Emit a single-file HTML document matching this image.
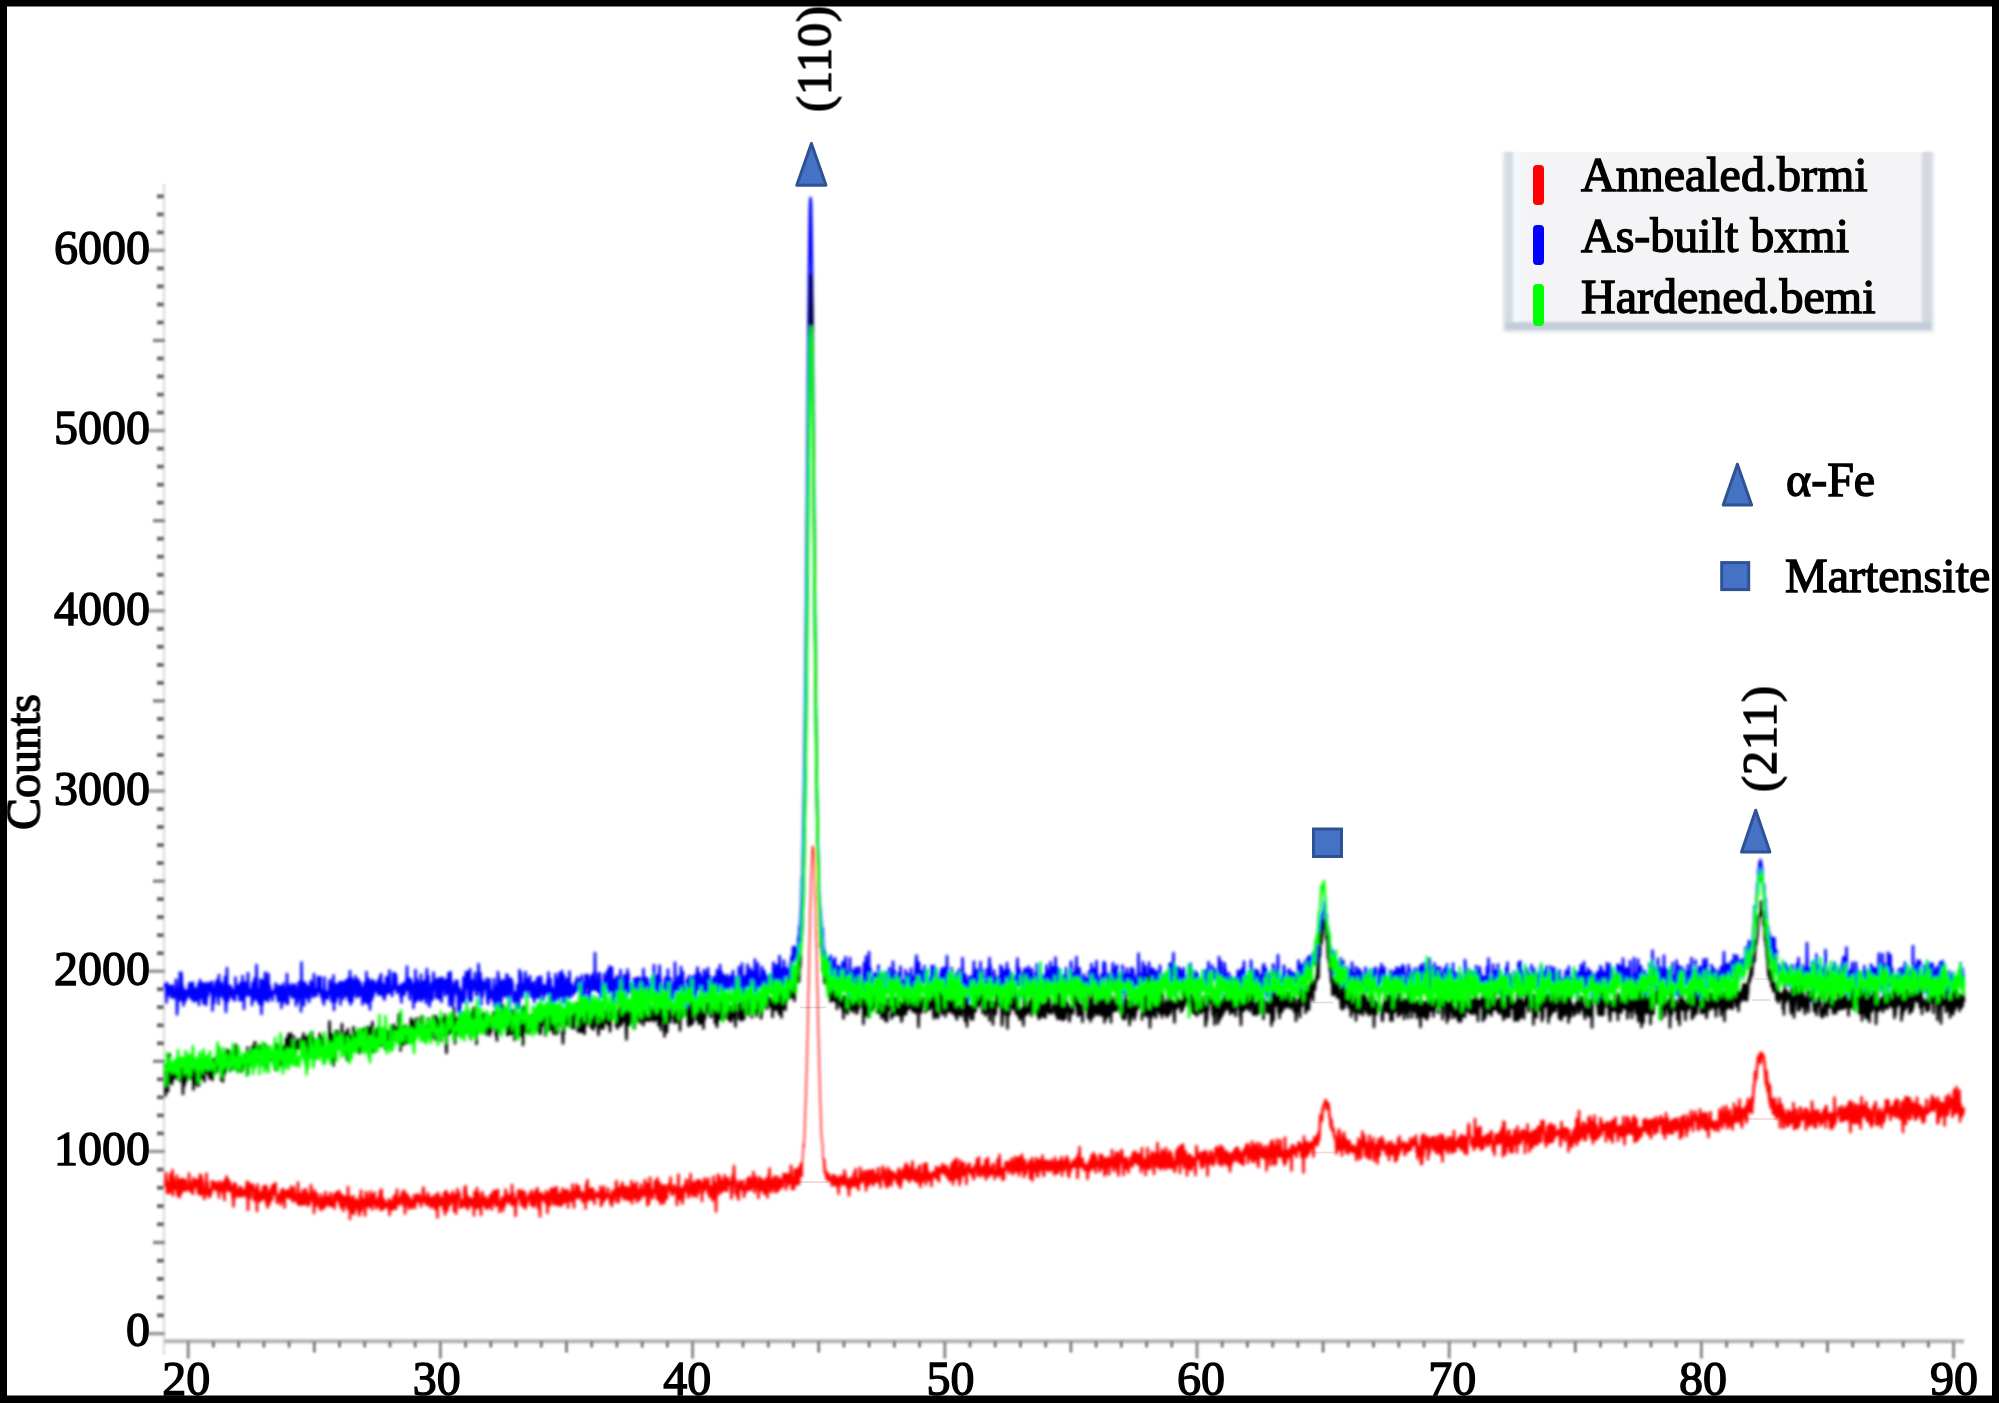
<!DOCTYPE html>
<html><head><meta charset="utf-8"><style>html,body{margin:0;padding:0;width:1999px;height:1403px;overflow:hidden;background:#fff}</style></head><body>
<svg width="1999" height="1403" viewBox="0 0 1999 1403" style="position:absolute;left:0;top:0">
<rect x="0" y="0" width="1999" height="1403" fill="#fff"/>
<defs><filter id="bl2" x="-2%" y="-2%" width="104%" height="104%"><feGaussianBlur stdDeviation="0.9"/></filter><filter id="bl4" x="-5%" y="-5%" width="110%" height="110%"><feGaussianBlur stdDeviation="0.6"/></filter><filter id="bl5" x="-10%" y="-10%" width="120%" height="120%"><feGaussianBlur stdDeviation="0.5"/></filter><filter id="bl3" x="-5%" y="-5%" width="110%" height="110%"><feGaussianBlur stdDeviation="1.6"/></filter></defs>
<g filter="url(#bl2)">
<line x1="164" y1="184" x2="164" y2="1355" stroke="#e0e0e0" stroke-width="2.6"/>
<line x1="164" y1="1341.3" x2="1964" y2="1341.3" stroke="#b4b4b4" stroke-width="4"/>
<line x1="148" y1="1333.6" x2="165" y2="1333.6" stroke="#999" stroke-width="3.5"/>
<line x1="157" y1="1315.4" x2="164" y2="1315.4" stroke="#6a6a6a" stroke-width="4"/>
<line x1="157" y1="1297.2" x2="164" y2="1297.2" stroke="#6a6a6a" stroke-width="4"/>
<line x1="157" y1="1278.9" x2="164" y2="1278.9" stroke="#6a6a6a" stroke-width="4"/>
<line x1="157" y1="1260.7" x2="164" y2="1260.7" stroke="#6a6a6a" stroke-width="4"/>
<line x1="153" y1="1242.5" x2="165" y2="1242.5" stroke="#888" stroke-width="3.5"/>
<line x1="157" y1="1224.3" x2="164" y2="1224.3" stroke="#6a6a6a" stroke-width="4"/>
<line x1="157" y1="1206.1" x2="164" y2="1206.1" stroke="#6a6a6a" stroke-width="4"/>
<line x1="157" y1="1187.8" x2="164" y2="1187.8" stroke="#6a6a6a" stroke-width="4"/>
<line x1="157" y1="1169.6" x2="164" y2="1169.6" stroke="#6a6a6a" stroke-width="4"/>
<line x1="148" y1="1151.4" x2="165" y2="1151.4" stroke="#999" stroke-width="3.5"/>
<line x1="157" y1="1133.4" x2="164" y2="1133.4" stroke="#6a6a6a" stroke-width="4"/>
<line x1="157" y1="1115.4" x2="164" y2="1115.4" stroke="#6a6a6a" stroke-width="4"/>
<line x1="157" y1="1097.3" x2="164" y2="1097.3" stroke="#6a6a6a" stroke-width="4"/>
<line x1="157" y1="1079.3" x2="164" y2="1079.3" stroke="#6a6a6a" stroke-width="4"/>
<line x1="153" y1="1061.3" x2="165" y2="1061.3" stroke="#888" stroke-width="3.5"/>
<line x1="157" y1="1043.3" x2="164" y2="1043.3" stroke="#6a6a6a" stroke-width="4"/>
<line x1="157" y1="1025.3" x2="164" y2="1025.3" stroke="#6a6a6a" stroke-width="4"/>
<line x1="157" y1="1007.2" x2="164" y2="1007.2" stroke="#6a6a6a" stroke-width="4"/>
<line x1="157" y1="989.2" x2="164" y2="989.2" stroke="#6a6a6a" stroke-width="4"/>
<line x1="148" y1="971.2" x2="165" y2="971.2" stroke="#999" stroke-width="3.5"/>
<line x1="157" y1="953.2" x2="164" y2="953.2" stroke="#6a6a6a" stroke-width="4"/>
<line x1="157" y1="935.2" x2="164" y2="935.2" stroke="#6a6a6a" stroke-width="4"/>
<line x1="157" y1="917.1" x2="164" y2="917.1" stroke="#6a6a6a" stroke-width="4"/>
<line x1="157" y1="899.1" x2="164" y2="899.1" stroke="#6a6a6a" stroke-width="4"/>
<line x1="153" y1="881.1" x2="165" y2="881.1" stroke="#888" stroke-width="3.5"/>
<line x1="157" y1="863.1" x2="164" y2="863.1" stroke="#6a6a6a" stroke-width="4"/>
<line x1="157" y1="845.1" x2="164" y2="845.1" stroke="#6a6a6a" stroke-width="4"/>
<line x1="157" y1="827.0" x2="164" y2="827.0" stroke="#6a6a6a" stroke-width="4"/>
<line x1="157" y1="809.0" x2="164" y2="809.0" stroke="#6a6a6a" stroke-width="4"/>
<line x1="148" y1="791.0" x2="165" y2="791.0" stroke="#999" stroke-width="3.5"/>
<line x1="157" y1="773.0" x2="164" y2="773.0" stroke="#6a6a6a" stroke-width="4"/>
<line x1="157" y1="755.0" x2="164" y2="755.0" stroke="#6a6a6a" stroke-width="4"/>
<line x1="157" y1="736.9" x2="164" y2="736.9" stroke="#6a6a6a" stroke-width="4"/>
<line x1="157" y1="718.9" x2="164" y2="718.9" stroke="#6a6a6a" stroke-width="4"/>
<line x1="153" y1="700.9" x2="165" y2="700.9" stroke="#888" stroke-width="3.5"/>
<line x1="157" y1="682.9" x2="164" y2="682.9" stroke="#6a6a6a" stroke-width="4"/>
<line x1="157" y1="664.9" x2="164" y2="664.9" stroke="#6a6a6a" stroke-width="4"/>
<line x1="157" y1="646.8" x2="164" y2="646.8" stroke="#6a6a6a" stroke-width="4"/>
<line x1="157" y1="628.8" x2="164" y2="628.8" stroke="#6a6a6a" stroke-width="4"/>
<line x1="148" y1="610.8" x2="165" y2="610.8" stroke="#999" stroke-width="3.5"/>
<line x1="157" y1="592.8" x2="164" y2="592.8" stroke="#6a6a6a" stroke-width="4"/>
<line x1="157" y1="574.8" x2="164" y2="574.8" stroke="#6a6a6a" stroke-width="4"/>
<line x1="157" y1="556.7" x2="164" y2="556.7" stroke="#6a6a6a" stroke-width="4"/>
<line x1="157" y1="538.7" x2="164" y2="538.7" stroke="#6a6a6a" stroke-width="4"/>
<line x1="153" y1="520.7" x2="165" y2="520.7" stroke="#888" stroke-width="3.5"/>
<line x1="157" y1="502.7" x2="164" y2="502.7" stroke="#6a6a6a" stroke-width="4"/>
<line x1="157" y1="484.7" x2="164" y2="484.7" stroke="#6a6a6a" stroke-width="4"/>
<line x1="157" y1="466.6" x2="164" y2="466.6" stroke="#6a6a6a" stroke-width="4"/>
<line x1="157" y1="448.6" x2="164" y2="448.6" stroke="#6a6a6a" stroke-width="4"/>
<line x1="148" y1="430.6" x2="165" y2="430.6" stroke="#999" stroke-width="3.5"/>
<line x1="157" y1="412.6" x2="164" y2="412.6" stroke="#6a6a6a" stroke-width="4"/>
<line x1="157" y1="394.6" x2="164" y2="394.6" stroke="#6a6a6a" stroke-width="4"/>
<line x1="157" y1="376.5" x2="164" y2="376.5" stroke="#6a6a6a" stroke-width="4"/>
<line x1="157" y1="358.5" x2="164" y2="358.5" stroke="#6a6a6a" stroke-width="4"/>
<line x1="153" y1="340.5" x2="165" y2="340.5" stroke="#888" stroke-width="3.5"/>
<line x1="157" y1="322.5" x2="164" y2="322.5" stroke="#6a6a6a" stroke-width="4"/>
<line x1="157" y1="304.5" x2="164" y2="304.5" stroke="#6a6a6a" stroke-width="4"/>
<line x1="157" y1="286.4" x2="164" y2="286.4" stroke="#6a6a6a" stroke-width="4"/>
<line x1="157" y1="268.4" x2="164" y2="268.4" stroke="#6a6a6a" stroke-width="4"/>
<line x1="148" y1="250.4" x2="165" y2="250.4" stroke="#999" stroke-width="3.5"/>
<line x1="157" y1="232.4" x2="164" y2="232.4" stroke="#6a6a6a" stroke-width="4"/>
<line x1="157" y1="214.4" x2="164" y2="214.4" stroke="#6a6a6a" stroke-width="4"/>
<line x1="157" y1="196.3" x2="164" y2="196.3" stroke="#6a6a6a" stroke-width="4"/>
<line x1="188.2" y1="1341" x2="188.2" y2="1358.5" stroke="#8a8a8a" stroke-width="3"/>
<line x1="213.4" y1="1341" x2="213.4" y2="1347.5" stroke="#7a7a7a" stroke-width="3"/>
<line x1="238.6" y1="1341" x2="238.6" y2="1347.5" stroke="#7a7a7a" stroke-width="3"/>
<line x1="263.9" y1="1341" x2="263.9" y2="1347.5" stroke="#7a7a7a" stroke-width="3"/>
<line x1="289.1" y1="1341" x2="289.1" y2="1347.5" stroke="#7a7a7a" stroke-width="3"/>
<line x1="314.3" y1="1341" x2="314.3" y2="1352.5" stroke="#808080" stroke-width="3"/>
<line x1="339.5" y1="1341" x2="339.5" y2="1347.5" stroke="#7a7a7a" stroke-width="3"/>
<line x1="364.7" y1="1341" x2="364.7" y2="1347.5" stroke="#7a7a7a" stroke-width="3"/>
<line x1="390.0" y1="1341" x2="390.0" y2="1347.5" stroke="#7a7a7a" stroke-width="3"/>
<line x1="415.2" y1="1341" x2="415.2" y2="1347.5" stroke="#7a7a7a" stroke-width="3"/>
<line x1="440.4" y1="1341" x2="440.4" y2="1358.5" stroke="#8a8a8a" stroke-width="3"/>
<line x1="465.6" y1="1341" x2="465.6" y2="1347.5" stroke="#7a7a7a" stroke-width="3"/>
<line x1="490.8" y1="1341" x2="490.8" y2="1347.5" stroke="#7a7a7a" stroke-width="3"/>
<line x1="516.1" y1="1341" x2="516.1" y2="1347.5" stroke="#7a7a7a" stroke-width="3"/>
<line x1="541.3" y1="1341" x2="541.3" y2="1347.5" stroke="#7a7a7a" stroke-width="3"/>
<line x1="566.5" y1="1341" x2="566.5" y2="1352.5" stroke="#808080" stroke-width="3"/>
<line x1="591.7" y1="1341" x2="591.7" y2="1347.5" stroke="#7a7a7a" stroke-width="3"/>
<line x1="616.9" y1="1341" x2="616.9" y2="1347.5" stroke="#7a7a7a" stroke-width="3"/>
<line x1="642.2" y1="1341" x2="642.2" y2="1347.5" stroke="#7a7a7a" stroke-width="3"/>
<line x1="667.4" y1="1341" x2="667.4" y2="1347.5" stroke="#7a7a7a" stroke-width="3"/>
<line x1="692.6" y1="1341" x2="692.6" y2="1358.5" stroke="#8a8a8a" stroke-width="3"/>
<line x1="717.8" y1="1341" x2="717.8" y2="1347.5" stroke="#7a7a7a" stroke-width="3"/>
<line x1="743.0" y1="1341" x2="743.0" y2="1347.5" stroke="#7a7a7a" stroke-width="3"/>
<line x1="768.3" y1="1341" x2="768.3" y2="1347.5" stroke="#7a7a7a" stroke-width="3"/>
<line x1="793.5" y1="1341" x2="793.5" y2="1347.5" stroke="#7a7a7a" stroke-width="3"/>
<line x1="818.7" y1="1341" x2="818.7" y2="1352.5" stroke="#808080" stroke-width="3"/>
<line x1="843.9" y1="1341" x2="843.9" y2="1347.5" stroke="#7a7a7a" stroke-width="3"/>
<line x1="869.1" y1="1341" x2="869.1" y2="1347.5" stroke="#7a7a7a" stroke-width="3"/>
<line x1="894.4" y1="1341" x2="894.4" y2="1347.5" stroke="#7a7a7a" stroke-width="3"/>
<line x1="919.6" y1="1341" x2="919.6" y2="1347.5" stroke="#7a7a7a" stroke-width="3"/>
<line x1="944.8" y1="1341" x2="944.8" y2="1358.5" stroke="#8a8a8a" stroke-width="3"/>
<line x1="970.0" y1="1341" x2="970.0" y2="1347.5" stroke="#7a7a7a" stroke-width="3"/>
<line x1="995.2" y1="1341" x2="995.2" y2="1347.5" stroke="#7a7a7a" stroke-width="3"/>
<line x1="1020.5" y1="1341" x2="1020.5" y2="1347.5" stroke="#7a7a7a" stroke-width="3"/>
<line x1="1045.7" y1="1341" x2="1045.7" y2="1347.5" stroke="#7a7a7a" stroke-width="3"/>
<line x1="1070.9" y1="1341" x2="1070.9" y2="1352.5" stroke="#808080" stroke-width="3"/>
<line x1="1096.1" y1="1341" x2="1096.1" y2="1347.5" stroke="#7a7a7a" stroke-width="3"/>
<line x1="1121.3" y1="1341" x2="1121.3" y2="1347.5" stroke="#7a7a7a" stroke-width="3"/>
<line x1="1146.6" y1="1341" x2="1146.6" y2="1347.5" stroke="#7a7a7a" stroke-width="3"/>
<line x1="1171.8" y1="1341" x2="1171.8" y2="1347.5" stroke="#7a7a7a" stroke-width="3"/>
<line x1="1197.0" y1="1341" x2="1197.0" y2="1358.5" stroke="#8a8a8a" stroke-width="3"/>
<line x1="1222.2" y1="1341" x2="1222.2" y2="1347.5" stroke="#7a7a7a" stroke-width="3"/>
<line x1="1247.4" y1="1341" x2="1247.4" y2="1347.5" stroke="#7a7a7a" stroke-width="3"/>
<line x1="1272.7" y1="1341" x2="1272.7" y2="1347.5" stroke="#7a7a7a" stroke-width="3"/>
<line x1="1297.9" y1="1341" x2="1297.9" y2="1347.5" stroke="#7a7a7a" stroke-width="3"/>
<line x1="1323.1" y1="1341" x2="1323.1" y2="1352.5" stroke="#808080" stroke-width="3"/>
<line x1="1348.3" y1="1341" x2="1348.3" y2="1347.5" stroke="#7a7a7a" stroke-width="3"/>
<line x1="1373.5" y1="1341" x2="1373.5" y2="1347.5" stroke="#7a7a7a" stroke-width="3"/>
<line x1="1398.8" y1="1341" x2="1398.8" y2="1347.5" stroke="#7a7a7a" stroke-width="3"/>
<line x1="1424.0" y1="1341" x2="1424.0" y2="1347.5" stroke="#7a7a7a" stroke-width="3"/>
<line x1="1449.2" y1="1341" x2="1449.2" y2="1358.5" stroke="#8a8a8a" stroke-width="3"/>
<line x1="1474.4" y1="1341" x2="1474.4" y2="1347.5" stroke="#7a7a7a" stroke-width="3"/>
<line x1="1499.6" y1="1341" x2="1499.6" y2="1347.5" stroke="#7a7a7a" stroke-width="3"/>
<line x1="1524.9" y1="1341" x2="1524.9" y2="1347.5" stroke="#7a7a7a" stroke-width="3"/>
<line x1="1550.1" y1="1341" x2="1550.1" y2="1347.5" stroke="#7a7a7a" stroke-width="3"/>
<line x1="1575.3" y1="1341" x2="1575.3" y2="1352.5" stroke="#808080" stroke-width="3"/>
<line x1="1600.5" y1="1341" x2="1600.5" y2="1347.5" stroke="#7a7a7a" stroke-width="3"/>
<line x1="1625.7" y1="1341" x2="1625.7" y2="1347.5" stroke="#7a7a7a" stroke-width="3"/>
<line x1="1651.0" y1="1341" x2="1651.0" y2="1347.5" stroke="#7a7a7a" stroke-width="3"/>
<line x1="1676.2" y1="1341" x2="1676.2" y2="1347.5" stroke="#7a7a7a" stroke-width="3"/>
<line x1="1701.4" y1="1341" x2="1701.4" y2="1358.5" stroke="#8a8a8a" stroke-width="3"/>
<line x1="1726.6" y1="1341" x2="1726.6" y2="1347.5" stroke="#7a7a7a" stroke-width="3"/>
<line x1="1751.8" y1="1341" x2="1751.8" y2="1347.5" stroke="#7a7a7a" stroke-width="3"/>
<line x1="1777.1" y1="1341" x2="1777.1" y2="1347.5" stroke="#7a7a7a" stroke-width="3"/>
<line x1="1802.3" y1="1341" x2="1802.3" y2="1347.5" stroke="#7a7a7a" stroke-width="3"/>
<line x1="1827.5" y1="1341" x2="1827.5" y2="1352.5" stroke="#808080" stroke-width="3"/>
<line x1="1852.7" y1="1341" x2="1852.7" y2="1347.5" stroke="#7a7a7a" stroke-width="3"/>
<line x1="1877.9" y1="1341" x2="1877.9" y2="1347.5" stroke="#7a7a7a" stroke-width="3"/>
<line x1="1903.2" y1="1341" x2="1903.2" y2="1347.5" stroke="#7a7a7a" stroke-width="3"/>
<line x1="1928.4" y1="1341" x2="1928.4" y2="1347.5" stroke="#7a7a7a" stroke-width="3"/>
<line x1="1953.6" y1="1341" x2="1953.6" y2="1358.5" stroke="#8a8a8a" stroke-width="3"/>
</g>
<line x1="800" y1="1007.5" x2="826" y2="1007.5" stroke="#dcdcdc" stroke-width="1.6"/>
<line x1="800" y1="1182" x2="828" y2="1182" stroke="#f4d0d0" stroke-width="1.6"/>
<line x1="1313" y1="1002.5" x2="1333" y2="1002.5" stroke="#dddddd" stroke-width="1.6"/>
<line x1="1310" y1="1152.5" x2="1334" y2="1152.5" stroke="#eed8d8" stroke-width="1.6"/>
<line x1="1752" y1="1000" x2="1771" y2="1000" stroke="#dcdcdc" stroke-width="1.6"/>
<line x1="1754" y1="979" x2="1770" y2="979" stroke="#e4e4e4" stroke-width="1.6"/>
<line x1="1745" y1="1119" x2="1776" y2="1119" stroke="#f4d4d4" stroke-width="1.6"/>
<defs><filter id="bl" x="-5%" y="-5%" width="110%" height="110%"><feGaussianBlur stdDeviation="1.5"/></filter></defs>
<g filter="url(#bl)"><g transform="scale(0.5)">
<path d="M330 1976l1-8 1 8 1 29 1-39 1 8 1 17 1-19 1 4 1 1 1 4 1-9 1 23 1-10 1 5 1-19 1 10 1 6 1 9 1-10 1-4 1 5 1-28 1 5 1 65 1-14 1-30 1 4 1-11 1 0 1-33 1 56 1-13 1-42 1 24 1 0 1 21 1 20 1-32 1 1 1 23 1-9 1-11 1 15 1-15 1-3 1 1 1 10 1-20 1-5 1 10 1 20 1-27 1 21 1-24 1 34 1-35 1 17 1 21 1-16 1-6 1-4 1 22 1 2 1-23 1 12 1-13 1-9 1 42 1-33 1-17 1 27 1 9 1-28 1 9 1-11 1 21 1 20 1-24 1 6 1-21 1 10 1 32 1-8 1-36 1 3 1 24 1-12 1-8 1 0 1-7 1 11 1 6 1 3 1-23 1 58 1-37 1-3 1 25 1-31 1 18 1-27 1 17 1-14 1-9 1 14 1 23 1 11 1-58 1 33 1 10 1-14 1 6 1-19 1 15 1 0 1 13 1-21 1 26 1-30 1-15 1 54 1 16 1-54 1-34 1 63 1 4 1-32 1 25 1-6 1-3 1-15 1 16 1-12 1 8 1 12 1-9 1 11 1-17 1 20 1-1 1-45 1 27 1 0 1-10 1 16 1-3 1-12 1 3 1 25 1-35 1 25 1 8 1-2 1-9 1-36 1 49 1-23 1 40 1-37 1-16 1 20 1 7 1-15 1-9 1 1 1-23 1 31 1 14 1-8 1-1 1-3 1 2 1-3 1 32 1-44 1 25 1 10 1-32 1-12 1 15 1 6 1 19 1-67 1 35 1 36 1-7 1-15 1 29 1-30 1 11 1-30 1 5 1 64 1-48 1 29 1-48 1 17 1-7 1 28 1-51 1-3 1 54 1-25 1 18 1-11 1 22 1-55 1 49 1-11 1-14 1 20 1-7 1 5 1-7 1 18 1-13 1-4 1 2 1-7 1 7 1-19 1 19 1-3 1 9 1-2 1 13 1-32 1 29 1-7 1-19 1-1 1 14 1 29 1-43 1 3 1 29 1-38 1 26 1 7 1-21 1 4 1-6 1 31 1-60 1 43 1 16 1-38 1 17 1-12 1 12 1-5 1-5 1 17 1-25 1 20 1 7 1-16 1-7 1 12 1 11 1-26 1 42 1-13 1-19 1 25 1-24 1 1 1-17 1 32 1-5 1-17 1 49 1-98 1 67 1 1 1-28 1 16 1 30 1-42 1-4 1 23 1-3 1-14 1 25 1-24 1 4 1 16 1 12 1-20 1 11 1-33 1 15 1-11 1 11 1-2 1 19 1-26 1-20 1 37 1 5 1-7 1 5 1 4 1-15 1 8 1-31 1 26 1-6 1-11 1 22 1-31 1 37 1 3 1-8 1-4 1 22 1-24 1 29 1-54 1 26 1 10 1 5 1-10 1-2 1 14 1-2 1-13 1 6 1-26 1-3 1 19 1-8 1 32 1-35 1 12 1-9 1-20 1 69 1-45 1 24 1-30 1 34 1-15 1-12 1-7 1 9 1 15 1-4 1-25 1 15 1 30 1-44 1 7 1-8 1 21 1-20 1 33 1-29 1 19 1-21 1-5 1 30 1-12 1-1 1-21 1 9 1 34 1-30 1-5 1-24 1 67 1-20 1-33 1 47 1-3 1-30 1-9 1 30 1-21 1 7 1-25 1 27 1-17 1 33 1-13 1-1 1-22 1 10 1 23 1-25 1-1 1 15 1 3 1-2 1 27 1-33 1-1 1 19 1-28 1 37 1-14 1-2 1-43 1 63 1-38 1-7 1 10 1-14 1 39 1 22 1-54 1 35 1-15 1 15 1-40 1 4 1 28 1-29 1 14 1 4 1-3 1 4 1-14 1 5 1 12 1-24 1 29 1-16 1-3 1-18 1 35 1-40 1 28 1 6 1 9 1-23 1 10 1 20 1 1 1-11 1 3 1-31 1-6 1 9 1 9 1 14 1-8 1-15 1-22 1 22 1 21 1-6 1 9 1 5 1-10 1-7 1-29 1 32 1-23 1-8 1 30 1-27 1 16 1 20 1-12 1 4 1 5 1-1 1-6 1-5 1 23 1-15 1 26 1-31 1-7 1 9 1-3 1-5 1 22 1-7 1-14 1-8 1 10 1-38 1 47 1-19 1-5 1 25 1 12 1 6 1-24 1-16 1 15 1 1 1 10 1-17 1 48 1-42 1 4 1 24 1-62 1 63 1-6 1 2 1-40 1 35 1-28 1 2 1 6 1 27 1-12 1-40 1 52 1-8 1-12 1-17 1 10 1-9 1 32 1-36 1 7 1 38 1-55 1-13 1 54 1-15 1-24 1 51 1 9 1-12 1-13 1 0 1-21 1 6 1 27 1-32 1-23 1 12 1 4 1 17 1-17 1 34 1-30 1 14 1-21 1 12 1 27 1-21 1-20 1 42 1-10 1 3 1 13 1-43 1-6 1 9 1 10 1 5 1-5 1 17 1-29 1-3 1 2 1 26 1-11 1 5 1-35 1 28 1 37 1-40 1-27 1 21 1-3 1 15 1 35 1-3 1-10 1-19 1-8 1-7 1 18 1-22 1 21 1 8 1-28 1 31 1 32 1-29 1-20 1 55 1-48 1 0 1 19 1 1 1-18 1 2 1-32 1 15 1 35 1-13 1-27 1-21 1 26 1 2 1-28 1 33 1 5 1 20 1-16 1-48 1 64 1-25 1 25 1-27 1-14 1 20 1-17 1 0 1 5 1-23 1 17 1 19 1 7 1 3 1-24 1 14 1-54 1 16 1 36 1 2 1-35 1 63 1-26 1-24 1 33 1-8 1-2 1-18 1 9 1-5 1-3 1 10 1-19 1 32 1 13 1 6 1-3 1-19 1-28 1 15 1 14 1 8 1-10 1-2 1 3 1 15 1-17 1-26 1 56 1-34 1 33 1-40 1 16 1 24 1-39 1-30 1 30 1-19 1 22 1 37 1-47 1 16 1 19 1-40 1 9 1 14 1-25 1 31 1-27 1 28 1-26 1 29 1-46 1 22 1-21 1 40 1-6 1-23 1 63 1-30 1-37 1 10 1-9 1 23 1-16 1 23 1 12 1 5 1-20 1 0 1 1 1 52 1-27 1-26 1-15 1 15 1 6 1 25 1-76 1 55 1-50 1 3 1 22 1 15 1-12 1 22 1-25 1 5 1-9 1-8 1-14 1 38 1-25 1 32 1 2 1-5 1 6 1-34 1 1 1-7 1 23 1-5 1 15 1 10 1-28 1 3 1 24 1-30 1 41 1-27 1 8 1-2 1 10 1-36 1 7 1-11 1 18 1 25 1-16 1 15 1-29 1-14 1 16 1 16 1-4 1-10 1 29 1-28 1-1 1 13 1-2 1-10 1 17 1 0 1-28 1 10 1-26 1 47 1 14 1-48 1 0 1 30 1 12 1-25 1 30 1-24 1 32 1-34 1 33 1-33 1-31 1 31 1-18 1 25 1 4 1 11 1-45 1 20 1-30 1 49 1-17 1-5 1-23 1-8 1 44 1 9 1 10 1-54 1 25 1 10 1-11 1 45 1-15 1-47 1 9 1 5 1 20 1-28 1-21 1 53 1-22 1 8 1-14 1 6 1 3 1 13 1-15 1 10 1-8 1-2 1-12 1 21 1-4 1-25 1 23 1 1 1-20 1 10 1 3 1-2 1 26 1-30 1-15 1 13 1 37 1-32 1 21 1-12 1-7 1 24 1-45 1 25 1-15 1 2 1-12 1 2 1 48 1-27 1 38 1-30 1-20 1-4 1-6 1 29 1-12 1 3 1-20 1-6 1 34 1-73 1 67 1 7 1-18 1-2 1 3 1 21 1-37 1 25 1-26 1 2 1 47 1-5 1 0 1-22 1 4 1-4 1 19 1-22 1-17 1 48 1-20 1-8 1 7 1 1 1-35 1 9 1 7 1 29 1-53 1 33 1 16 1-4 1 3 1-46 1 34 1 2 1 39 1-51 1 32 1 1 1-31 1 26 1-30 1-5 1 52 1-30 1 26 1-27 1-17 1 40 1-56 1 37 1 16 1-19 1-16 1 38 1-24 1 24 1-46 1 19 1 10 1-26 1 41 1-15 1-40 1 35 1-26 1 20 1 16 1-8 1-6 1 9 1 7 1-1 1 13 1-28 1-5 1-7 1 45 1-46 1 15 1 25 1-27 1-13 1 5 1-4 1-3 1 0 1 17 1 36 1-23 1-20 1 14 1-20 1-2 1 13 1-32 1 50 1-33 1 24 1 6 1-25 1 22 1-26 1 35 1-21 1 16 1-11 1 2 1 14 1-32 1 34 1-5 1-33 1-2 1 6 1 6 1-35 1 62 1-8 1 4 1-33 1 10 1-14 1 2 1 21 1 11 1 3 1-57 1 22 1 7 1 16 1-2 1 2 1 0 1 37 1-42 1 6 1-12 1 1 1-11 1 15 1-14 1 59 1-26 1-50 1 52 1-16 1-18 1 28 1-28 1 38 1 8 1-10 1 6 1-29 1 5 1-11 1 24 1-63 1 46 1-1 1-9 1 13 1 7 1-13 1-15 1 5 1-5 1 26 1 4 1-49 1 39 1-12 1-5 1-12 1 49 1-15 1-1 1-3 1 38 1-41 1 49 1-56 1-5 1-1 1 32 1-38 1 32 1 6 1-4 1-2 1-18 1-12 1 52 1-28 1-25 1 12 1-6 1 36 1-44 1 45 1-31 1-21 1-9 1 24 1-7 1 27 1-3 1-29 1 21 1 2 1 23 1-28 1-9 1 26 1-5 1-37 1 25 1 8 1 15 1-9 1-7 1-29 1 35 1-42 1 48 1-10 1-22 1 20 1 10 1-12 1-11 1 39 1-26 1-3 1 5 1-20 1 23 1-4 1-7 1-12 1 17 1-31 1 43 1-39 1 38 1-12 1-10 1-30 1 21 1 23 1-30 1 26 1 11 1-22 1 6 1-15 1 26 1-16 1-5 1 6 1 6 1 11 1-28 1 14 1-7 1 15 1-6 1 18 1-20 1-12 1 12 1-13 1 9 1-18 1 27 1 25 1-36 1 10 1 15 1-29 1 7 1-4 1 14 1-9 1-1 1-27 1 43 1-12 1-6 1 36 1-2 1-66 1 69 1-41 1 25 1-2 1 21 1-19 1-29 1 38 1-35 1 5 1-30 1 43 1-30 1 6 1 21 1 24 1-56 1 51 1-16 1-24 1-4 1 34 1-14 1 4 1-26 1-23 1 76 1-48 1 66 1-51 1 20 1-55 1 32 1 16 1-4 1 1 1-14 1 6 1-14 1-16 1 15 1 34 1 6 1-15 1-32 1 24 1 6 1-14 1 27 1-5 1-29 1 14 1 2 1-13 1 15 1 2 1-4 1-19 1 9 1 22 1-16 1-17 1-21 1 52 1-26 1 10 1-19 1 6 1-18 1 16 1 18 1 0 1-17 1 0 1-35 1 12 1 48 1-26 1 28 1 5 1-41 1 2 1 27 1-46 1 43 1 3 1-32 1 7 1 5 1-2 1-6 1 5 1 0 1 27 1-10 1-34 1 20 1-21 1-13 1 24 1-12 1-31 1 20 1-20 1 2 1 10 1 10 1 7 1 0 1-28 1-4 1 3 1-20 1 12 1-32 1 2 1-13 1-18 1-21 1-48 1-3 1-52 1-52 1-58 1-67 1-87 1-85 1-102 1-118 1-114 1-121 1-132 1-117 1-103 1-79 1-54 1-16 1 12 1 55 1 82 1 110 1 110 1 121 1 125 1 120 1 115 1 104 1 90 1 81 1 71 1 61 1 41 1 56 1 26 1 32 1 5 1 12 1 16 1 17 1 38 1-40 1 28 1 14 1 3 1 10 1-7 1 5 1 13 1 37 1-37 1-5 1 1 1 13 1-8 1-8 1 26 1-30 1 57 1-10 1-4 1 26 1-23 1-36 1 1 1 20 1-26 1 25 1 13 1-12 1 8 1-15 1 39 1-42 1 25 1-22 1 42 1-19 1-8 1-14 1 37 1-49 1 20 1 18 1-30 1 20 1-18 1-20 1 27 1 23 1-2 1-17 1 6 1 19 1-2 1-23 1-29 1 86 1-58 1 17 1-18 1-1 1 14 1 19 1 7 1 8 1-54 1 26 1 6 1-5 1 19 1-29 1-18 1 4 1 47 1-51 1 37 1 21 1-12 1-5 1-17 1 18 1 9 1-22 1-38 1 46 1-20 1 6 1-45 1 80 1-52 1 42 1-13 1-8 1-58 1 70 1 19 1-56 1 38 1-10 1-4 1-2 1 4 1-7 1-2 1-8 1 22 1 6 1 5 1-29 1 12 1-11 1 0 1-20 1 26 1-9 1 34 1-2 1-14 1 16 1-33 1 36 1-25 1 45 1-24 1-14 1-1 1 27 1-34 1-15 1 6 1 23 1-1 1 10 1-32 1-14 1 35 1 20 1-33 1-9 1 60 1-50 1-36 1 24 1 5 1 2 1-11 1 35 1-2 1-22 1 20 1-17 1 38 1-47 1-2 1 15 1-3 1-25 1 48 1-3 1 3 1-12 1 10 1-18 1 12 1 14 1 2 1-49 1 23 1 2 1-4 1 2 1-15 1 3 1 21 1 4 1 5 1 3 1-47 1 41 1 19 1-21 1-1 1-19 1 21 1-25 1 3 1-16 1-16 1-12 1 26 1 45 1-13 1-12 1-32 1 24 1-9 1 25 1-14 1-2 1 21 1-22 1-6 1 22 1-21 1-11 1 28 1 1 1 6 1 5 1-13 1 10 1-2 1 8 1 14 1-11 1-23 1 27 1-9 1-41 1 9 1 33 1-23 1 22 1-41 1 40 1-12 1-23 1 39 1-38 1 38 1-19 1 9 1-3 1-5 1 5 1 16 1-33 1 2 1-10 1-1 1 48 1-47 1 0 1 33 1-28 1-8 1 36 1 15 1-18 1-56 1 45 1 26 1-17 1 13 1-11 1-8 1 47 1-52 1-19 1 29 1 3 1-26 1 42 1-1 1 3 1-22 1-10 1 9 1-12 1-5 1 6 1 24 1-10 1-27 1 41 1-14 1 3 1-5 1 16 1 5 1-69 1 28 1 30 1-12 1-13 1 18 1-17 1 22 1-4 1-5 1 6 1 36 1-44 1-4 1-4 1 26 1-24 1 2 1 36 1 7 1-47 1 25 1-35 1-20 1 49 1 2 1-13 1-12 1 33 1-43 1 5 1 6 1 21 1-26 1 1 1 37 1-59 1 43 1-12 1 16 1-17 1-13 1 35 1 15 1-22 1 16 1-10 1-11 1-2 1-24 1 41 1-24 1 15 1-33 1-21 1 40 1-25 1 40 1 19 1-6 1 5 1-11 1-12 1-25 1 8 1 4 1 16 1 5 1-13 1-2 1-2 1-2 1 8 1 33 1-15 1-5 1-45 1 38 1-20 1-14 1 20 1 13 1-2 1 13 1-23 1-15 1 10 1-3 1 0 1-22 1 47 1-15 1-9 1-10 1 65 1-33 1-6 1 15 1-34 1 11 1 11 1 22 1-5 1-6 1-26 1 30 1 15 1-11 1-15 1-41 1-14 1 53 1-26 1-8 1 2 1 25 1 21 1-14 1 24 1-37 1-10 1 48 1-33 1-6 1-17 1-2 1 10 1 26 1-5 1-28 1 32 1-10 1-29 1 26 1 27 1-20 1-16 1 15 1-25 1-2 1 35 1-3 1-7 1 20 1-29 1 10 1-17 1 25 1 5 1-49 1 49 1-5 1 2 1-7 1 10 1-15 1 12 1-5 1-14 1-6 1 4 1 21 1-20 1 9 1 0 1 29 1-43 1 15 1-33 1 19 1 31 1 5 1-45 1 36 1-28 1 17 1-42 1 36 1-26 1 3 1 32 1-2 1-32 1 26 1 15 1-37 1-24 1 46 1-25 1 28 1-28 1 29 1-28 1 14 1 13 1-8 1 14 1 10 1-1 1-18 1 18 1-27 1-1 1 1 1 17 1-10 1 1 1-24 1 38 1-7 1-3 1-2 1 11 1-2 1-29 1 29 1-28 1-20 1 14 1 55 1-46 1 5 1-1 1 39 1-43 1 33 1-42 1 4 1-27 1 53 1 20 1-46 1 3 1 23 1-31 1 12 1 35 1-17 1 2 1-6 1-6 1 16 1-9 1-14 1 12 1 4 1 0 1-3 1 32 1-37 1 21 1-20 1 28 1-43 1 13 1 28 1-28 1 17 1-45 1 23 1 23 1-18 1 4 1-22 1 15 1-2 1 29 1-34 1-24 1 26 1 12 1-3 1 20 1-21 1 23 1-20 1 8 1 7 1-25 1 37 1-26 1 23 1-56 1-3 1 21 1-19 1 23 1 1 1 17 1 9 1-19 1 12 1-2 1-20 1 15 1 25 1-24 1 10 1-8 1 14 1-41 1-12 1 53 1-31 1 1 1 30 1-21 1-24 1 11 1-14 1 49 1-7 1-19 1-1 1 6 1 8 1 0 1 4 1-19 1 57 1-78 1 38 1 16 1-35 1 35 1-32 1 14 1-18 1-3 1-9 1 32 1-4 1-5 1 25 1-36 1 9 1 26 1-46 1-2 1 47 1-33 1-12 1 7 1 32 1 8 1-23 1 7 1-9 1 2 1-11 1 19 1-7 1-56 1 55 1-15 1 8 1 1 1 20 1-25 1 10 1-15 1-22 1 33 1-10 1 31 1-20 1-25 1 28 1 11 1-16 1 7 1 1 1 3 1-42 1 51 1-8 1 2 1-32 1 27 1-28 1 20 1 4 1 25 1-47 1 11 1 3 1 9 1 6 1 15 1-40 1 12 1 12 1 4 1-13 1 4 1-31 1 15 1 25 1 9 1-16 1 12 1-17 1-6 1-4 1 4 1 10 1-14 1 27 1-15 1-16 1 10 1 28 1-3 1 9 1-61 1 59 1-25 1-35 1 14 1-5 1 33 1-22 1-41 1 54 1-8 1 13 1-5 1-7 1-18 1 41 1 9 1-26 1-3 1-21 1 12 1 24 1-21 1-10 1 15 1 11 1-18 1 18 1 27 1-57 1 47 1-17 1-1 1 1 1-1 1 20 1-35 1 9 1 0 1-18 1-1 1-4 1-9 1 25 1 35 1-31 1 3 1-1 1 12 1 6 1-30 1-4 1 38 1-30 1 13 1 4 1-20 1 14 1 9 1-11 1 36 1-25 1-2 1 17 1-28 1-2 1 15 1-7 1-15 1-7 1 32 1-19 1-13 1 19 1 14 1 0 1-8 1 12 1-54 1 46 1-17 1 4 1-8 1 18 1 16 1-52 1 30 1-3 1-2 1-18 1 8 1-7 1 6 1 12 1-2 1 18 1 21 1-30 1 15 1-65 1 18 1 7 1 31 1-47 1 67 1-9 1-7 1 3 1-20 1-1 1-30 1 16 1-4 1 14 1 10 1 10 1 15 1-12 1-8 1-21 1 44 1-6 1-28 1 22 1-24 1 13 1 6 1 10 1-22 1 12 1-2 1 0 1-15 1 1 1 33 1-28 1-9 1-12 1 5 1 10 1 24 1-7 1-30 1 29 1-31 1-4 1 41 1-26 1 9 1-38 1 22 1 24 1-17 1 24 1-14 1-6 1 1 1-3 1 21 1 17 1-26 1 9 1-3 1-51 1 18 1 23 1 23 1-3 1-29 1-13 1 24 1-7 1-2 1-15 1 53 1-37 1-4 1-10 1 10 1 27 1-10 1 17 1-30 1-1 1-5 1 26 1 3 1-47 1 24 1-28 1 23 1 34 1-41 1-7 1 30 1 26 1-46 1 14 1-7 1 52 1-56 1 57 1-33 1-31 1 48 1 0 1-25 1-37 1 1 1 39 1-29 1 8 1 5 1-1 1 19 1-27 1-5 1-29 1 32 1 59 1-22 1-27 1 4 1 34 1-30 1 4 1-6 1 1 1-18 1-10 1 14 1 32 1-5 1-4 1-10 1 6 1-1 1 10 1-33 1 1 1-2 1 18 1-9 1 24 1 1 1-8 1-20 1 13 1 17 1-22 1-6 1 5 1 14 1-13 1 8 1-2 1-4 1-15 1-19 1 4 1 16 1 18 1-2 1-1 1-25 1 67 1-53 1 39 1-35 1-23 1 38 1 23 1-63 1-4 1 17 1-14 1 34 1-34 1-10 1 17 1 5 1-19 1 2 1 29 1-36 1 8 1 8 1-21 1 4 1 0 1 17 1-25 1 26 1-19 1 19 1-5 1-37 1 1 1-9 1-14 1-4 1 8 1-20 1-6 1-2 1-11 1-2 1 0 1-4 1-5 1-17 1 36 1-9 1 31 1-30 1 32 1 2 1-8 1 11 1 41 1-23 1 17 1-8 1 12 1-5 1 11 1 10 1-18 1 46 1-15 1 11 1-11 1 6 1-3 1 8 1 1 1 21 1-26 1-5 1 17 1 2 1 0 1-39 1 27 1-3 1 12 1 4 1 7 1-41 1 57 1-34 1 6 1 4 1 23 1-5 1-39 1 30 1-27 1 4 1 2 1-3 1 34 1-12 1-20 1 34 1-51 1 39 1-8 1 17 1-25 1 20 1-9 1 16 1-41 1 50 1-36 1 3 1-3 1 26 1-36 1 1 1 14 1-2 1 8 1-14 1 26 1-24 1 2 1 33 1 21 1-44 1 1 1-25 1 21 1 10 1 15 1-22 1 9 1 9 1-18 1-20 1 17 1 20 1-24 1 25 1 9 1-37 1 18 1-29 1 14 1 20 1-18 1-19 1 26 1 16 1-7 1 2 1 7 1 2 1-31 1-12 1 26 1-20 1-2 1-14 1 33 1 3 1-13 1 5 1-3 1-18 1 31 1-12 1 22 1-15 1 9 1 2 1-10 1 4 1-14 1-8 1 41 1-44 1 57 1-44 1-8 1 24 1-7 1 9 1-29 1 72 1-39 1 17 1-38 1-20 1 2 1 10 1 7 1 18 1-35 1 10 1 27 1 7 1-11 1-31 1-3 1-6 1 42 1-7 1-31 1 21 1-10 1 37 1-17 1-6 1 6 1 1 1 22 1-58 1 26 1 29 1-46 1 18 1-11 1 16 1 10 1 0 1-20 1-7 1 5 1-3 1-10 1 16 1-12 1-2 1 14 1 7 1 6 1 14 1 6 1-51 1 23 1 10 1-38 1 11 1 16 1-17 1 21 1-9 1-26 1 13 1 24 1-17 1-9 1 23 1 5 1-41 1 39 1 18 1-26 1-38 1 29 1-6 1 56 1-29 1-32 1 29 1-31 1 15 1 2 1-23 1 39 1-1 1-10 1-2 1 34 1-52 1 17 1 7 1-14 1 18 1-28 1 20 1-11 1 28 1-11 1-11 1 23 1-5 1-11 1-20 1 6 1-3 1 11 1-11 1-11 1 25 1-5 1-3 1 46 1-34 1-9 1-6 1 19 1-23 1 29 1-8 1-33 1 54 1-23 1 1 1-1 1 8 1-21 1 31 1 5 1-33 1 30 1-28 1 7 1 12 1-6 1-4 1-10 1 20 1-8 1 22 1-21 1 30 1-34 1 8 1-46 1 15 1 25 1-19 1 12 1 25 1 23 1-63 1 13 1 42 1-46 1-5 1 28 1-26 1 45 1-27 1-4 1-14 1 7 1 3 1-6 1 22 1-38 1 32 1-20 1 14 1 5 1-15 1 2 1-16 1 5 1 29 1-19 1 7 1 16 1 6 1-24 1 14 1 15 1-23 1-6 1 3 1 23 1-11 1-35 1 38 1-8 1-47 1 35 1 15 1 26 1-40 1 30 1-24 1 15 1 14 1-59 1 31 1-18 1 3 1 27 1-15 1 8 1-24 1 10 1 14 1-36 1 20 1 1 1 23 1-22 1 34 1-35 1 25 1-20 1 9 1-9 1-3 1 8 1 0 1 25 1 8 1-57 1 12 1 37 1-60 1 46 1-21 1 1 1 6 1-9 1 35 1-24 1 4 1-6 1 7 1 6 1 2 1-29 1 31 1-22 1 0 1 8 1-9 1-2 1 19 1-15 1-28 1 53 1-14 1 8 1-49 1 61 1-26 1-16 1 32 1-13 1 10 1 11 1-22 1-10 1 16 1-10 1-10 1-9 1 44 1-33 1 22 1 22 1-20 1-25 1 6 1 25 1-48 1 21 1 9 1 8 1-17 1 14 1-27 1 15 1-5 1 16 1 21 1-36 1 27 1-16 1-1 1 13 1-29 1 41 1-52 1 37 1-28 1-6 1 39 1-2 1-30 1 13 1 2 1 34 1-3 1-39 1-16 1 38 1 3 1-19 1-5 1-2 1 18 1 27 1-60 1 34 1-31 1 58 1-42 1 15 1 11 1-37 1-5 1 33 1-22 1 30 1-8 1-6 1 2 1-18 1 33 1-39 1 0 1 21 1 17 1 21 1-41 1 12 1-14 1 20 1-19 1 1 1-1 1-5 1 0 1-12 1 31 1-26 1 9 1 11 1 10 1-43 1 21 1 13 1-10 1 1 1 9 1 16 1-27 1 5 1 2 1-22 1 40 1-6 1-20 1-12 1 4 1-2 1 52 1-48 1 2 1-5 1 24 1-21 1-9 1-10 1 24 1 28 1-25 1-10 1 2 1-25 1 38 1 14 1-7 1-23 1 26 1 4 1-3 1-36 1 17 1 10 1-21 1 3 1 29 1-32 1 11 1 40 1-15 1-26 1-4 1 14 1 12 1-21 1 36 1-42 1 13 1-3 1 11 1-26 1 56 1-26 1-25 1 22 1-38 1 18 1 21 1-33 1 21 1-12 1 21 1 0 1-23 1 11 1 15 1 2 1-27 1-20 1 46 1-27 1 63 1-26 1-37 1-16 1 27 1-8 1 5 1-14 1 37 1-30 1 19 1-2 1-6 1 4 1 10 1-9 1 12 1-43 1 14 1 19 1-35 1 5 1 14 1 18 1-14 1-5 1-15 1 28 1 7 1-50 1 15 1 19 1 22 1-25 1-11 1 7 1-2 1 14 1-19 1 30 1-2 1 1 1 2 1-46 1 65 1-34 1 21 1 5 1-24 1 29 1-26 1-42 1 43 1-10 1 23 1-24 1 35 1-29 1 5 1-40 1 40 1 4 1 4 1 11 1-34 1-12 1 32 1-19 1 18 1-13 1-1 1 34 1-12 1-30 1 50 1-34 1 6 1 11 1-18 1-4 1-4 1 56 1-77 1 39 1-27 1 20 1 9 1-10 1-57 1 28 1 34 1-10 1-16 1 10 1 9 1 5 1 15 1-32 1-6 1-21 1 50 1-21 1 12 1-23 1 24 1 10 1 18 1-43 1 10 1-17 1 30 1-56 1 59 1-22 1 2 1-13 1 23 1 13 1 2 1-33 1 13 1-4 1 20 1-17 1-1 1-7 1 37 1-12 1-45 1 38 1-6 1 6 1 19 1-7 1-26 1 19 1-48 1 62 1 8 1-27 1 14 1-46 1 32 1-17 1 35 1-37 1 0 1-10 1 18 1-6 1 7 1-14 1 24 1-17 1 20 1-23 1 17 1 7 1 1 1-39 1 54 1-1 1-38 1 29 1-9 1 0 1-49 1 52 1 1 1-6 1-11 1-5 1 35 1-34 1-27 1 67 1-42 1-4 1 11 1 6 1 38 1-63 1 27 1-2 1-25 1 63 1-40 1-12 1-2 1 1 1-25 1 31 1-13 1 4 1 40 1-13 1-50 1 41 1-3 1 22 1-17 1 17 1-13 1-21 1 25 1-4 1-35 1 16 1-1 1-9 1 27 1-3 1 30 1-50 1 17 1-4 1 19 1-30 1 0 1 7 1 31 1-13 1-14 1 14 1-22 1-11 1 31 1-10 1 8 1-30 1 2 1-31 1 46 1 17 1-24 1 11 1-8 1-18 1 26 1-18 1 50 1-56 1 16 1 6 1 4 1-33 1 33 1-32 1 31 1-10 1-6 1-29 1 30 1 0 1 4 1 4 1 4 1-41 1 5 1 36 1-15 1 22 1-37 1 3 1 9 1 15 1-28 1 2 1 12 1-17 1 33 1-14 1 4 1-19 1-27 1 24 1-19 1 16 1 3 1-25 1 4 1-16 1 3 1 23 1 20 1-44 1 13 1-3 1-6 1-18 1-14 1-11 1-33 1 27 1-24 1 2 1-15 1-22 1-15 1 2 1-28 1 6 1-20 1 3 1-8 1 4 1 9 1 2 1 22 1 10 1 4 1-3 1 31 1 11 1-13 1 28 1 10 1 23 1-6 1 1 1 16 1-5 1 12 1-5 1 8 1 18 1-11 1-10 1 26 1 26 1-19 1 9 1-42 1 32 1 32 1-13 1-26 1 45 1-9 1-7 1 4 1 8 1-11 1 27 1-13 1 1 1-4 1 1 1-4 1 6 1 2 1-12 1-9 1 0 1 36 1-23 1-8 1 18 1-13 1 13 1-10 1 33 1-34 1 17 1 4 1-7 1-22 1 1 1 12 1-10 1 22 1 15 1 11 1-32 1 3 1-3 1-1 1-20 1 38 1-3 1-47 1 21 1 19 1 30 1-20 1-9 1-5 1-4 1 7 1-24 1 41 1-16 1 8 1-26 1 11 1-11 1 13 1-65 1 53 1 26 1-13 1 7 1-20 1-4 1 11 1 10 1 8 1-40 1 9 1 72 1-54 1 17 1-9 1-36 1 50 1-2 1-62 1 52 1-4 1-25 1 30 1-10 1-4 1-20 1 54 1-14 1-13 1-18 1 27 1-19 1 17 1-2 1-30 1 27 1-57 1 47 1-14 1 7 1 41 1-1 1-36 1 29 1-10 1-4 1 10 1-37 1 7 1 11 1-7 1 26 1-31 1 30 1-43 1 40 1-2 1-30 1 9 1 28 1-27 1 10 1 0 1-11 1 0 1-7 1 10 1 2 1 8 1-28 1 40 1-48 1-5 1 1 1 41 1-40 1 17 1 1 1-39 1 55 1-7 1 33 1 17 1-45 1-2 1-5 1 7 1 41 1-42 1-14 1-8 1 45 1-1 1-3 1-1 1 17 1-16 1-41 1 47 1 15 1-29 1 4 1-21 1 26 1-10 1 11 1 3 1-24 1 4 1 3 1-10 1 24 1-15 1-3 1-18 1 55 1-27 1-15 1 19 1-12 1-11 1 4 1 39 1-9 1 29 1-62 1 8 1-21 1 24 1 21 1-40 1 43 1-24 1 4 1-18 1-2 1 24 1 6 1-13 1 10 1-28 1 11 1-19 1-21 1 62 1-5 1-19 1 1 1 14 1 24 1-76 1 44 1 22 1 22 1-68 1 19 1 6 1 19 1-17 1 5 1 38 1-93 1 40 1 14 1 12 1-7 1-54 1 36 1 31 1-40 1 7 1 0 1 12 1 0 1-7 1 8 1 22 1-8 1-18 1 29 1-26 1 3 1-19 1 10 1 9 1-1 1-13 1-9 1 37 1 8 1-14 1 28 1-28 1-29 1-3 1-10 1 27 1-2 1 14 1-2 1-14 1-11 1 8 1 45 1-46 1 9 1 11 1-14 1-13 1 13 1 16 1-74 1 72 1-19 1-15 1 39 1-26 1 25 1-10 1 9 1-46 1 57 1-34 1 8 1 37 1-67 1 41 1-5 1-9 1 20 1-2 1-13 1 15 1-18 1-21 1 41 1 11 1-27 1-9 1-5 1 32 1 22 1-58 1 3 1-14 1 44 1-27 1-8 1 51 1-52 1-7 1 15 1 1 1-4 1 18 1 22 1-10 1-13 1 12 1-34 1 26 1-5 1 30 1-39 1 19 1-40 1 59 1-37 1 13 1-1 1-37 1 13 1 33 1-41 1 37 1-26 1 46 1-26 1 0 1 0 1 23 1 6 1-34 1-11 1 10 1 7 1 21 1-23 1 5 1 3 1-16 1 0 1-4 1 12 1 10 1-11 1 2 1 24 1-23 1 23 1 6 1-21 1-3 1-24 1 18 1-15 1-17 1 24 1-5 1 20 1-28 1 14 1 0 1 21" fill="none" stroke="#0000ff" stroke-width="5.2" stroke-linejoin="round"/>
<path d="M330 2128l1 63 1-41 1 13 1-2 1-3 1 25 1-25 1 8 1-58 1 43 1 7 1-1 1 5 1 6 1-10 1-12 1 10 1-17 1 16 1-4 1-21 1 13 1 15 1-5 1-10 1-20 1 31 1-1 1-17 1 26 1-9 1-16 1 4 1 6 1-8 1 49 1-55 1 28 1 10 1-28 1-6 1 16 1 9 1-16 1 1 1-21 1 9 1 8 1-14 1 19 1 10 1-22 1 0 1 11 1 8 1-15 1 39 1-46 1 3 1 30 1-24 1 14 1-25 1 40 1-16 1-24 1-6 1 46 1-23 1-12 1 13 1-31 1 39 1-22 1 19 1-35 1 20 1 5 1 19 1-49 1 13 1 0 1-6 1 11 1 14 1 2 1 0 1-31 1 40 1-12 1-5 1-8 1-5 1 26 1 7 1-25 1-18 1 7 1 7 1 7 1-9 1 8 1-15 1 22 1-13 1 3 1-9 1 4 1-33 1 14 1 0 1 50 1-24 1 3 1-16 1 40 1-50 1 2 1 33 1-5 1-2 1-13 1-8 1-21 1 32 1-14 1 9 1-24 1 15 1-9 1 34 1-12 1 8 1-33 1 12 1 13 1 2 1-13 1 16 1 3 1-20 1-29 1 39 1 4 1 9 1 2 1-27 1-5 1 12 1-5 1 3 1-1 1 24 1-15 1-9 1 13 1-5 1 5 1-7 1-18 1 18 1-4 1-14 1 2 1-15 1 54 1-42 1 19 1-9 1-11 1-3 1 0 1 13 1-22 1 27 1-2 1-14 1 20 1-40 1 16 1-16 1 31 1 5 1-8 1-9 1 19 1-14 1 6 1-24 1 33 1-25 1 24 1 4 1-4 1 7 1-19 1-14 1 13 1-7 1-15 1 20 1 1 1 6 1 19 1-34 1 36 1-35 1 9 1-17 1 18 1 10 1-17 1 13 1-6 1-3 1 2 1 1 1 9 1-10 1 29 1-30 1 15 1-34 1-2 1 47 1-31 1 4 1 13 1-23 1 14 1 19 1-22 1-2 1-4 1 19 1-27 1-2 1 27 1-7 1-9 1 7 1-34 1 22 1 18 1-4 1-10 1-35 1 36 1-5 1-6 1 8 1-34 1 41 1-19 1 8 1-7 1 27 1-44 1 28 1-3 1 14 1-3 1-19 1-7 1 3 1-7 1 7 1 10 1-12 1 4 1 10 1-13 1-8 1 15 1 9 1-17 1-17 1 31 1-2 1 0 1-20 1 45 1-33 1-12 1 29 1-34 1 14 1 16 1-12 1 26 1-15 1-35 1 40 1-41 1 28 1-16 1 14 1 34 1-25 1-11 1 19 1 3 1-25 1 15 1 15 1-15 1-23 1 19 1-21 1-8 1 22 1 17 1 2 1-19 1-14 1 9 1-4 1 15 1-12 1 12 1-3 1 15 1 4 1-17 1 10 1-3 1-24 1 11 1-45 1 30 1 23 1-21 1 6 1 15 1-27 1 28 1 34 1-58 1 21 1-31 1 32 1 7 1-40 1 38 1-19 1-18 1 19 1 3 1-3 1-11 1 25 1-22 1 1 1-27 1 40 1 8 1-24 1 16 1-10 1 2 1-15 1 27 1-9 1 37 1-25 1-37 1 33 1 1 1 7 1-27 1 6 1 20 1-28 1 6 1-7 1 21 1-36 1 20 1 7 1 6 1-4 1-17 1 17 1-20 1 7 1-12 1 8 1 13 1 28 1-33 1-8 1 9 1-6 1 16 1-2 1 8 1-34 1 18 1 9 1 13 1-18 1-24 1 14 1 18 1-32 1-1 1 7 1 3 1-6 1 9 1-3 1 23 1-35 1 19 1-27 1 61 1-41 1-5 1 20 1-12 1-4 1 2 1 17 1-6 1-18 1-4 1 17 1 1 1-2 1-13 1 31 1 4 1-22 1 19 1-8 1-11 1-6 1 24 1-29 1 39 1-35 1 32 1-5 1-29 1 16 1 5 1-5 1-14 1 8 1-1 1-16 1 26 1-4 1 1 1-26 1 3 1-5 1 20 1 2 1-15 1 18 1-18 1 1 1 21 1-9 1 0 1-28 1-13 1 41 1-2 1 34 1-37 1 3 1 16 1-29 1 36 1-21 1-5 1 21 1-32 1-3 1 36 1 1 1-31 1 9 1 18 1-14 1-3 1 1 1-15 1 6 1-21 1 6 1 10 1-6 1-4 1 10 1 29 1-32 1 12 1-24 1 23 1-7 1 3 1-20 1 22 1 7 1-9 1 11 1-9 1 2 1-4 1-25 1 35 1-7 1 4 1-14 1 28 1-7 1-10 1-9 1 8 1 7 1 6 1-21 1-15 1 17 1 2 1-4 1 21 1-10 1-1 1-8 1 5 1 18 1-36 1-9 1 30 1-11 1 2 1-8 1 35 1-48 1 32 1-27 1 18 1 7 1-4 1-16 1 27 1-7 1 1 1 19 1-46 1 11 1 9 1-18 1 32 1-14 1-27 1 11 1 49 1 17 1-35 1-32 1 23 1-4 1-12 1 22 1-17 1-8 1 4 1 1 1 16 1-17 1 14 1-27 1-19 1 50 1 22 1-26 1-13 1-10 1-1 1 29 1 0 1-32 1 36 1-33 1 20 1-15 1 1 1-2 1 0 1 27 1-19 1 4 1-5 1-14 1 23 1 7 1 0 1-7 1-16 1 24 1-30 1 13 1 8 1 17 1-25 1-6 1 37 1-45 1-7 1 20 1-3 1-29 1 18 1 32 1-13 1 2 1 0 1 34 1-48 1 21 1-12 1 4 1-15 1 18 1 7 1-20 1-14 1 27 1-26 1 17 1 12 1-32 1 36 1-28 1 23 1-15 1 26 1-6 1-29 1 13 1 2 1 8 1-14 1 28 1-4 1-15 1 10 1-2 1-9 1 1 1 1 1-29 1 10 1-4 1 20 1 7 1 14 1-17 1 27 1-23 1-21 1-13 1 10 1 28 1-21 1 20 1-25 1 14 1-15 1-26 1 25 1-22 1 33 1 8 1-26 1-6 1 35 1-9 1 23 1-19 1-17 1 15 1 7 1 13 1-27 1-7 1 3 1 5 1 24 1-47 1 28 1 1 1-13 1 44 1-32 1 1 1-8 1-15 1 13 1 36 1-23 1-9 1 1 1 22 1 6 1-34 1 3 1 5 1 26 1-54 1 72 1-39 1-38 1 35 1-6 1 22 1-40 1 41 1-24 1 2 1 18 1-30 1 36 1-12 1-10 1 6 1-13 1-8 1 19 1 4 1-1 1-2 1-18 1 16 1-10 1 8 1 11 1-26 1 29 1-16 1-23 1 40 1-16 1 23 1-17 1 16 1-18 1 3 1-11 1-22 1 20 1-6 1 11 1 3 1 9 1 15 1-29 1-24 1 17 1 16 1-34 1 32 1 3 1 9 1-4 1-11 1-35 1 34 1 13 1-7 1-6 1 23 1-28 1-9 1 6 1-5 1 30 1 6 1-46 1 3 1 40 1-27 1 3 1-8 1 5 1 11 1-11 1 1 1 3 1 27 1 18 1-34 1 13 1-29 1-8 1 7 1 10 1-7 1-17 1 29 1-25 1 3 1 7 1-18 1 33 1-26 1 29 1-2 1 4 1-23 1 21 1-15 1 18 1-34 1-12 1 25 1-22 1 16 1-24 1 31 1 26 1-47 1 25 1 14 1-6 1 15 1-23 1 14 1-40 1 13 1 36 1-2 1-15 1 21 1-28 1-1 1 11 1-4 1-16 1-14 1-1 1 22 1-13 1 25 1-18 1 21 1-26 1 30 1-4 1-15 1-9 1 31 1-14 1-10 1-2 1 17 1-15 1 6 1-26 1 13 1 29 1 13 1-35 1-17 1 15 1-11 1 22 1 13 1-33 1 10 1-9 1 32 1-24 1 12 1-22 1 21 1 1 1-1 1-28 1 19 1 12 1 4 1 0 1-39 1 51 1-15 1-23 1-9 1 21 1-15 1 1 1-4 1 15 1-25 1 22 1-21 1 41 1-32 1 34 1 4 1-31 1 20 1-20 1 24 1-42 1 25 1 18 1-21 1-11 1 26 1-20 1-24 1 18 1 14 1 8 1-18 1 33 1 23 1-37 1 7 1-44 1 25 1 17 1 3 1-26 1 20 1-4 1-7 1-3 1 0 1-1 1-18 1-6 1 52 1-66 1 38 1-18 1 31 1-16 1 1 1 2 1-12 1 3 1 26 1-14 1-13 1 0 1 16 1-1 1-2 1 15 1 3 1-45 1 31 1-8 1 13 1-32 1-7 1 31 1-12 1 20 1-39 1 13 1 27 1-32 1 13 1-1 1 1 1 16 1-2 1-18 1 10 1 14 1-46 1 35 1 5 1 2 1-21 1-5 1 11 1-9 1 36 1-17 1 1 1-7 1-8 1 40 1-81 1 62 1-19 1-7 1-1 1 10 1 49 1-29 1-28 1 26 1 2 1 20 1-56 1 11 1 22 1-12 1 0 1 16 1-14 1-8 1-4 1-12 1 20 1 7 1-13 1 16 1 9 1-37 1 24 1-8 1-8 1 27 1-27 1 2 1 9 1-8 1 18 1 23 1-30 1 9 1-27 1 9 1 12 1-9 1-20 1 3 1 12 1-1 1 11 1-2 1-12 1 11 1-6 1 22 1 8 1 1 1-20 1-28 1 3 1 33 1 9 1-37 1 6 1 28 1-38 1 14 1-18 1 15 1-9 1 9 1 20 1-11 1 7 1-24 1 29 1 8 1-35 1-7 1-5 1 6 1 40 1-13 1-2 1-8 1 33 1-34 1-4 1 19 1-17 1-17 1 18 1-16 1 1 1 9 1 1 1 11 1-25 1 27 1 3 1-22 1 23 1-18 1-10 1 15 1-1 1-12 1 2 1 36 1-4 1-41 1 15 1 38 1-12 1-21 1 16 1-23 1 6 1-7 1 26 1-28 1-21 1 43 1-33 1 5 1 5 1 11 1 17 1-4 1-26 1-3 1-4 1 4 1 1 1 21 1 12 1-23 1-4 1 6 1 25 1-16 1 15 1-25 1 18 1-13 1-8 1 3 1-20 1 39 1 17 1-49 1-7 1-1 1 18 1-4 1 6 1 22 1-11 1-17 1 17 1-39 1 53 1-17 1-24 1 27 1 8 1 3 1-10 1-35 1 17 1-1 1 16 1-22 1 12 1 15 1-7 1-10 1-15 1 19 1-9 1-24 1 44 1 7 1-35 1 8 1 8 1-5 1 9 1-13 1 13 1-18 1 30 1-5 1-15 1 9 1-18 1 11 1 8 1-12 1 11 1 16 1-7 1-5 1-5 1-9 1-13 1 5 1-19 1 8 1 22 1-28 1 7 1 25 1-12 1-12 1 12 1-12 1 10 1-5 1 15 1-11 1 11 1-16 1 36 1-31 1-14 1 10 1 9 1-9 1 21 1-1 1-7 1-4 1-17 1 28 1-30 1 39 1-12 1-12 1-19 1 27 1 23 1-40 1 7 1 15 1-1 1-6 1-12 1-9 1 31 1-57 1 34 1 4 1-16 1 7 1-33 1 17 1 20 1 0 1 0 1-4 1-16 1 18 1-34 1 22 1-1 1-17 1 38 1-16 1-24 1 5 1-3 1-9 1 9 1-10 1 10 1-1 1-45 1 17 1-13 1-35 1-13 1-5 1-26 1-34 1-35 1-51 1-55 1-65 1-77 1-86 1-99 1-103 1-104 1-122 1-110 1-108 1-101 1-73 1-50 1-20 1 21 1 50 1 73 1 94 1 110 1 120 1 113 1 110 1 100 1 99 1 86 1 74 1 69 1 54 1 45 1 45 1 26 1 20 1 35 1-2 1 13 1 8 1 29 1-3 1-11 1 14 1 24 1-9 1-12 1 23 1-3 1-28 1 38 1 3 1 15 1-3 1-29 1 25 1 17 1-3 1-12 1-10 1 23 1-20 1 19 1-12 1-1 1-1 1 17 1-4 1-9 1 28 1-22 1-4 1-8 1 17 1 3 1-5 1 14 1-7 1-9 1 2 1 20 1-10 1 28 1-45 1 21 1-11 1 20 1-15 1-8 1-8 1 37 1-34 1 16 1 9 1-19 1 12 1 1 1 6 1-14 1 3 1 3 1 13 1-7 1-14 1-14 1 21 1-22 1 22 1 17 1-27 1 25 1-21 1-10 1 21 1-3 1-40 1 35 1 0 1-8 1 13 1 0 1-7 1 43 1-59 1 39 1 0 1-25 1 8 1 20 1-23 1 21 1-7 1 13 1-10 1-19 1 4 1-3 1-9 1 15 1 9 1-6 1-30 1 26 1-5 1 7 1-6 1-2 1 6 1 3 1 10 1 1 1-20 1-5 1-3 1 14 1 13 1-22 1 0 1 33 1-36 1 4 1-17 1 43 1 3 1-32 1 40 1-17 1 6 1-1 1 14 1-26 1-19 1 8 1 0 1 13 1-29 1 15 1-8 1 40 1-29 1 23 1-23 1 2 1 21 1-21 1-15 1 10 1-1 1 22 1-2 1 6 1-19 1-17 1 12 1 7 1 18 1-25 1 11 1 26 1-3 1-22 1 9 1-40 1 26 1 16 1-8 1-33 1 40 1-27 1 5 1-16 1 15 1 14 1-14 1 7 1-14 1 16 1-32 1 33 1-9 1 17 1-12 1 2 1-3 1-11 1 22 1 5 1-30 1 21 1 6 1-28 1 6 1 53 1-35 1-18 1-1 1 21 1-32 1 36 1-8 1-6 1 2 1-13 1-3 1 17 1-23 1 33 1-8 1-30 1 25 1-15 1 24 1-3 1-3 1-4 1 8 1-5 1-11 1-8 1 17 1-8 1-5 1 32 1 7 1-50 1 5 1 20 1-5 1 20 1 7 1-26 1 28 1-38 1 25 1-15 1-26 1 1 1 34 1-21 1 33 1-7 1-15 1-16 1 31 1-18 1 7 1 22 1-18 1-26 1 25 1-9 1-5 1 24 1-30 1-5 1-1 1 4 1 28 1 2 1 3 1 2 1-2 1-28 1-7 1 33 1-23 1 33 1-15 1 11 1 10 1-27 1 0 1 7 1 2 1 8 1-14 1 8 1-14 1 23 1-22 1-5 1-11 1 3 1 13 1 14 1 18 1-29 1-22 1-4 1 66 1-28 1-6 1 11 1-20 1 3 1 8 1-7 1 24 1-10 1-1 1-28 1 40 1-22 1-16 1 13 1-14 1 23 1-17 1-7 1-21 1 24 1-11 1 22 1-1 1-24 1 16 1-13 1 11 1-22 1-4 1 50 1-42 1 22 1 0 1 9 1-13 1 29 1-7 1 1 1-17 1-10 1 3 1 6 1 15 1 19 1-34 1 4 1-4 1-17 1 26 1 0 1 33 1-45 1 10 1 10 1-17 1 22 1-8 1-39 1 19 1-3 1 3 1 2 1 7 1-33 1 37 1-13 1 15 1 2 1 33 1-8 1-55 1 1 1 31 1-7 1-10 1 26 1-44 1 44 1-5 1 33 1-68 1 23 1-25 1 42 1-21 1 4 1-2 1-30 1-3 1 14 1 28 1-20 1-7 1 12 1 0 1 1 1 22 1-18 1-21 1 41 1-17 1-12 1 35 1-20 1 25 1-17 1 12 1-8 1-6 1-4 1-1 1 35 1-63 1 29 1 13 1-7 1-15 1 21 1-9 1 1 1-16 1 20 1-19 1 2 1 8 1-22 1 19 1 19 1-24 1 3 1 3 1-4 1-34 1 33 1-3 1 11 1-25 1 22 1 12 1 6 1-27 1-4 1 37 1-13 1-22 1-6 1 37 1-14 1-20 1 22 1-2 1 2 1 12 1-22 1-4 1 27 1-23 1-16 1 14 1-12 1 24 1-30 1 34 1-43 1 37 1 4 1 3 1-7 1 1 1 3 1-6 1-15 1-4 1 19 1-24 1 35 1 0 1 2 1-27 1 34 1-3 1-42 1-7 1 6 1 45 1-24 1-13 1 12 1 27 1-20 1 21 1-7 1-54 1 23 1 34 1 1 1-31 1 17 1-19 1 19 1-7 1-7 1 20 1 14 1-11 1-8 1-8 1-2 1 0 1-9 1 22 1-36 1-9 1 25 1 3 1-16 1 9 1 7 1 6 1 9 1 7 1-29 1-9 1 36 1-16 1-4 1 10 1 5 1-6 1 25 1-30 1 4 1-38 1 18 1 21 1-6 1-27 1 2 1 22 1 5 1 21 1-18 1-2 1 9 1-39 1 57 1-28 1-8 1-1 1-19 1 48 1-10 1-13 1-1 1 8 1 6 1-29 1 34 1-8 1-32 1-4 1 13 1 28 1 0 1 0 1 4 1-11 1-27 1 17 1 15 1 0 1 7 1-38 1 51 1-36 1 27 1-6 1 7 1-39 1 17 1-45 1 60 1 1 1-27 1 0 1 14 1 27 1-54 1 13 1 3 1 16 1-20 1 19 1-9 1 3 1-22 1 27 1-2 1-23 1 14 1 4 1 3 1-18 1 25 1-18 1-24 1 25 1 19 1 7 1-22 1 22 1 6 1-13 1 5 1-31 1 37 1-48 1 37 1-14 1-9 1 7 1-8 1 27 1 21 1-33 1 23 1-17 1-24 1 18 1 6 1 9 1-14 1-1 1 22 1-30 1 22 1-21 1 11 1-23 1 2 1 14 1 2 1-9 1-15 1 5 1 14 1-2 1-20 1 50 1-34 1 23 1-36 1 29 1-6 1 15 1-17 1-12 1-14 1 46 1-13 1-69 1 47 1 15 1-8 1 50 1-68 1 23 1 25 1-41 1 29 1 6 1-25 1 2 1 14 1-6 1 20 1 1 1-37 1-6 1 14 1 1 1 12 1-4 1 12 1-42 1 36 1-15 1 6 1 23 1-53 1 36 1 7 1-14 1 16 1-15 1 16 1-25 1 9 1 22 1-38 1 13 1 21 1-23 1-1 1-23 1 43 1-27 1 15 1-11 1 13 1-3 1-9 1 27 1 14 1-33 1 7 1-8 1-9 1 14 1-23 1 20 1-3 1-11 1 4 1 10 1-3 1 14 1-2 1-12 1-11 1 20 1-21 1-17 1-3 1 33 1-16 1 7 1-3 1-1 1 5 1-5 1 10 1 8 1-9 1-3 1-12 1 13 1-5 1-11 1 37 1-11 1-12 1 8 1 16 1-31 1 16 1 15 1-46 1 51 1-20 1 10 1-12 1-8 1 22 1-11 1 0 1 14 1-34 1 16 1 7 1 6 1-5 1-8 1 10 1-27 1 60 1-7 1-30 1 25 1-28 1 10 1-20 1 3 1-14 1 6 1-6 1 12 1-9 1 9 1 18 1 10 1-1 1-26 1 45 1-41 1 15 1-23 1 8 1 15 1-12 1 36 1-40 1-3 1 36 1-42 1 15 1-5 1 26 1-32 1 0 1 9 1 16 1-28 1-8 1 14 1-10 1 25 1-12 1-3 1 3 1-42 1 38 1 15 1-22 1 31 1-23 1-7 1 20 1-3 1 10 1-17 1 13 1-38 1 17 1 14 1 18 1-54 1 11 1 13 1 5 1 0 1 10 1-37 1 27 1 26 1-13 1 30 1-51 1-1 1-16 1-5 1 45 1-19 1-9 1 3 1 21 1-21 1 5 1-14 1 22 1 3 1 5 1-2 1 6 1-7 1-13 1 1 1-14 1 4 1 7 1 28 1-27 1-10 1 39 1-3 1-2 1 1 1-12 1 11 1-21 1 25 1-17 1 6 1 7 1-31 1 15 1-8 1 14 1-16 1 1 1 12 1 26 1-41 1 2 1 8 1-1 1 2 1-1 1 18 1-15 1-6 1 15 1 6 1-45 1 20 1 14 1 3 1 34 1-19 1-19 1-24 1 52 1-21 1-41 1 19 1 4 1-12 1 21 1 0 1-14 1-2 1 30 1-41 1 52 1-17 1-59 1 56 1-18 1 26 1-11 1 6 1-5 1-17 1-17 1 14 1-11 1 32 1-31 1 14 1-12 1 27 1-3 1-25 1 12 1 8 1 12 1-9 1-9 1-4 1 19 1-3 1-12 1 24 1-32 1 14 1 2 1 35 1-13 1-9 1-7 1 8 1-23 1 3 1 6 1 27 1-53 1 25 1-13 1 19 1-11 1-11 1 6 1-11 1 16 1-33 1 58 1-21 1-24 1 18 1 2 1 18 1-45 1 45 1-37 1 3 1-11 1-10 1 29 1 0 1-10 1 18 1-39 1 14 1-11 1 14 1-19 1 4 1-12 1 7 1-32 1 14 1 15 1-45 1 2 1-3 1-43 1 16 1 3 1-15 1-16 1 0 1-15 1 0 1 16 1-3 1 0 1 16 1 9 1-4 1 13 1 29 1 0 1 7 1 4 1 15 1-19 1 35 1 7 1-12 1 37 1-12 1-19 1 30 1-3 1-25 1 12 1 7 1 0 1 15 1-13 1 9 1-38 1 30 1 14 1-3 1-1 1 23 1-8 1-34 1 45 1-12 1-24 1-7 1 39 1-37 1 28 1-30 1 18 1 12 1-15 1 3 1 21 1-45 1 39 1-23 1 26 1 21 1-11 1-15 1-12 1-17 1 26 1 6 1 15 1-18 1-5 1 39 1-55 1 3 1-17 1 49 1-14 1 0 1 21 1-7 1 2 1-23 1 1 1-14 1 28 1 15 1-28 1 1 1-5 1-9 1 29 1-22 1 29 1-18 1-9 1 13 1-5 1 25 1-12 1-12 1 21 1-5 1-52 1 35 1 17 1 3 1-38 1 66 1-38 1-15 1 19 1-17 1 25 1-16 1-1 1 0 1-2 1 2 1-17 1 22 1 5 1-5 1 1 1 19 1 6 1-9 1-25 1 15 1-4 1-52 1 27 1 21 1 7 1-31 1 34 1-32 1 10 1-13 1 34 1-26 1 43 1-26 1-20 1 6 1 40 1-39 1 3 1 9 1 10 1-7 1 5 1-24 1 7 1-9 1 6 1 31 1-23 1-31 1 51 1-22 1 17 1 2 1-18 1-11 1 3 1 4 1-7 1 40 1-38 1 6 1 10 1-3 1 13 1-32 1 31 1 11 1-23 1 9 1-8 1-25 1 26 1-4 1-34 1 58 1-28 1-13 1-5 1-12 1 46 1-20 1 11 1 6 1 4 1 12 1-28 1-7 1 29 1-29 1 21 1 7 1 25 1-59 1 6 1 17 1 1 1 14 1-28 1 9 1-10 1 6 1 25 1 2 1-31 1 33 1-31 1-10 1 35 1-31 1 10 1-8 1 18 1-10 1-7 1-22 1 17 1 4 1 29 1-26 1 16 1-10 1-5 1-12 1 6 1 7 1 4 1-23 1 36 1-15 1-21 1 25 1-17 1-1 1-17 1 13 1 45 1-27 1-4 1-9 1 7 1-23 1 12 1 36 1-8 1 23 1-61 1 30 1 0 1 23 1-18 1-13 1 13 1 0 1 4 1-42 1 41 1 14 1-15 1-2 1-4 1 2 1 14 1-14 1-9 1 28 1-54 1 5 1 56 1-23 1-22 1-6 1-7 1 58 1-11 1-10 1-17 1 26 1-24 1-1 1-4 1 32 1-24 1 2 1 8 1-28 1 26 1-28 1 33 1-37 1 1 1 39 1-19 1 1 1 20 1-28 1 3 1 24 1-16 1-13 1 17 1 9 1-38 1 42 1-21 1-13 1 5 1 43 1-25 1-3 1 1 1-13 1 1 1 6 1-2 1-12 1-4 1 51 1-66 1 44 1-21 1 38 1-18 1 12 1-37 1 3 1 14 1 3 1-9 1 21 1-5 1 2 1-25 1 13 1 20 1-26 1-2 1-14 1 31 1-16 1-26 1 38 1 1 1-14 1 16 1-8 1 8 1 5 1-27 1 20 1 10 1-11 1-3 1-7 1-10 1-13 1 48 1-16 1 25 1-32 1-5 1 19 1 4 1 1 1 8 1-34 1-20 1 49 1-45 1 28 1 21 1-31 1-4 1 6 1 11 1-31 1 31 1-14 1-1 1 25 1 15 1-1 1-22 1-12 1 34 1-17 1-36 1 54 1-36 1 1 1-7 1 37 1-29 1 27 1-43 1 35 1-20 1 19 1-15 1 27 1-29 1-6 1 10 1-26 1 20 1-6 1 4 1-22 1 41 1-7 1 0 1-14 1 6 1-9 1 8 1 13 1-7 1-8 1 44 1-59 1 31 1-3 1-10 1 8 1 19 1-20 1-26 1 6 1-3 1 28 1-5 1-21 1-7 1 24 1 16 1 15 1-54 1 48 1-32 1-7 1-39 1 50 1 5 1-10 1 0 1-14 1 11 1 23 1 22 1-39 1 16 1-34 1 44 1-25 1 15 1 3 1-42 1 25 1 5 1-15 1 25 1-7 1 5 1-43 1 27 1-5 1-8 1 21 1 0 1 24 1-34 1 3 1 11 1-26 1 49 1-36 1 29 1-4 1-15 1-25 1 41 1-3 1 3 1-52 1 24 1 2 1-27 1 29 1 39 1-26 1 11 1-53 1 57 1-29 1 14 1-1 1-8 1 3 1 9 1 9 1-10 1 7 1-3 1-17 1 5 1-10 1 11 1-35 1 43 1 5 1-33 1 28 1-14 1-14 1 18 1 4 1-21 1 10 1 14 1 11 1-13 1 21 1-13 1 3 1-22 1-8 1 23 1-3 1 11 1 4 1-15 1-17 1 2 1-2 1 14 1 40 1-60 1-6 1 7 1 0 1-4 1-26 1 39 1-20 1 12 1 2 1 13 1 4 1 13 1-28 1 14 1 15 1-7 1 7 1-46 1 30 1-6 1 22 1-3 1-34 1 21 1-8 1-26 1-4 1 23 1 3 1 4 1 9 1-38 1 53 1-18 1 30 1-11 1-28 1 0 1 1 1 11 1 7 1-3 1-3 1-24 1-6 1 17 1 16 1 6 1-20 1 9 1 26 1-53 1 23 1 5 1 9 1 0 1-29 1 30 1-17 1-8 1-20 1 20 1 10 1 7 1-21 1-3 1 24 1-17 1 12 1 25 1-11 1-29 1-11 1 13 1 14 1 9 1-21 1 3 1 32 1-37 1 22 1-22 1 2 1-3 1-6 1 6 1 29 1-1 1-33 1 9 1 34 1 7 1-48 1-22 1 23 1 18 1-9 1 49 1-28 1-33 1 2 1 50 1-55 1 11 1-7 1 19 1-3 1 17 1-23 1-9 1 30 1-21 1 14 1-26 1 1 1 55 1-46 1-9 1 26 1-6 1-1 1 16 1-17 1-27 1 18 1-18 1 9 1-3 1 17 1-10 1-21 1 9 1 19 1 17 1 3 1-19 1-3 1 37 1-33 1-2 1 0 1 14 1-47 1 24 1 37 1-11 1-25 1 5 1 6 1 3 1 3 1 4 1 9 1-26 1 55 1-34 1-32 1 33 1 7 1-50 1 14 1 19 1 7 1-6 1 2 1-1 1 8 1-21 1 18 1 20 1-8 1-21 1 16 1 24 1-65 1 17 1 16 1 0 1-17 1-14 1 33 1-17 1 17 1-15 1 23 1 12 1-32 1 3 1-13 1 23 1-34 1 21 1-23 1 30 1-30 1 26 1-4 1-13 1 44 1-11 1-47 1 54 1-16 1-17 1-15 1 32 1-11 1 21 1-12 1-23 1 11 1 6 1-8 1 5 1-1 1 9 1 10 1-27 1 29 1-35 1-18 1 10 1-13 1 54 1-21 1 18 1-2 1 16 1-8 1-34 1 2 1-8 1 1 1 6 1 25 1-11 1-14 1-8 1 26 1 2 1-1 1-33 1 16 1 14 1 8 1-20 1 34 1-23 1 5 1 0 1-13 1-3 1-43 1 47 1-9 1 24 1 13 1-45 1-13 1 47 1-15 1-19 1 16 1 40 1-55 1 18 1-14 1 27 1-29 1-3 1 28 1-20 1 18 1-2 1 6 1-8 1 4 1-30 1 22 1 14 1-40 1 13 1-8 1 17 1-13 1 12 1 13 1-17 1-1 1 0 1-12 1 40 1-33 1 17 1-9 1-12 1 5 1 11 1-23 1 11 1-16 1-5 1 23 1 9 1-19 1-12 1 6 1 20 1 6 1-13 1-3 1-25 1 6 1-14 1 10 1-27 1 19 1-12 1 9 1-16 1-14 1-1 1-12 1 15 1-20 1-21 1 7 1-5 1-9 1-7 1-16 1-19 1-1 1-3 1 0 1-2 1-25 1 21 1-1 1 10 1 2 1 14 1 4 1-2 1 30 1-3 1 15 1 0 1 24 1-5 1 23 1 17 1 0 1 1 1 8 1-6 1-15 1 34 1-18 1 7 1 15 1 6 1-18 1 2 1 14 1-1 1-1 1 21 1-19 1-2 1-20 1 46 1-5 1-13 1 11 1-2 1-6 1 6 1-4 1-6 1 32 1-33 1 44 1-60 1 12 1 24 1-25 1 19 1-9 1-5 1 7 1 6 1-10 1 13 1 3 1 10 1 13 1-52 1 12 1 34 1-27 1 3 1 38 1-22 1-11 1-28 1 10 1-3 1 15 1-10 1 34 1-28 1-2 1 31 1-23 1-20 1-6 1 8 1 33 1-9 1 6 1-27 1 33 1 3 1 9 1-29 1-3 1 16 1 3 1-9 1-24 1 42 1-21 1-3 1-3 1-14 1 7 1 9 1-19 1 5 1 13 1 1 1 23 1-21 1 15 1 5 1-13 1 22 1-13 1-5 1-14 1 11 1-12 1-18 1 12 1 31 1 10 1-14 1 0 1 17 1-4 1 0 1-17 1-32 1-4 1 43 1-9 1 15 1 4 1-25 1-2 1 11 1-20 1 16 1-23 1 26 1-22 1 17 1-5 1-8 1 31 1-9 1-11 1 3 1-8 1 17 1 8 1-19 1-7 1 18 1-32 1 8 1-3 1 1 1 26 1-47 1 45 1-18 1-5 1 6 1 2 1 16 1-7 1-7 1-20 1 31 1-22 1 4 1 6 1 10 1-7 1 25 1-29 1-4 1 14 1-17 1 3 1 17 1-25 1 22 1-47 1 54 1-3 1-3 1-14 1-14 1 17 1 7 1-36 1 14 1 20 1-2 1 22 1-25 1-26 1 46 1 4 1-25 1 40 1-60 1 46 1-12 1-9 1-22 1 13 1 37 1-4 1-29 1 36 1-28 1 8 1-26 1-6 1 59 1-47 1-3 1 22 1-2 1 9 1-13 1-12 1-15 1-1 1 27 1 9 1-29 1 59 1-21 1-33 1-25 1 48 1-14 1 19 1-16 1 0 1 11 1-19 1 9 1-11 1 12 1 16 1-22 1-11 1 26 1-34 1 14 1 13 1-6 1 7 1 7 1-29 1 1 1 21 1-4 1 0 1-14 1-12 1 33 1-15 1 5 1-9 1-14 1 37 1 18 1-30 1 23 1-52 1 38 1-7 1-8 1 0 1 10 1-7 1-15 1 20 1-34 1 24 1 43 1-52 1 42 1-33 1-31 1 19 1 35 1-5 1-13 1-23 1 35 1-30 1 13 1 7 1 1 1-30 1 51 1-6 1-32 1-2 1 36 1-6 1 4 1-27 1 19 1-33 1 11 1 8 1 1 1-6 1-5 1 14 1-4 1-9 1 14 1-17 1 18 1 10 1-15 1-24 1 3 1 49 1-30 1 13 1-3 1 0 1-2 1 5 1-4 1-8 1 23 1 0 1-1 1 0 1-28 1 27 1-16 1-2 1-11 1 11 1-16 1 18 1-5 1-8 1 35 1-30 1-17 1 22 1 5 1-34 1 29 1-18 1 57 1-39 1 10 1-15 1-12 1 21 1 1 1 41 1-57 1-9 1 19 1 10 1-13 1-11 1 6 1-23 1 42 1 13 1-30 1-12 1 27 1-7 1 10 1 10 1-8 1 21 1-37 1-3 1-7 1 27 1-3 1 17 1-4 1-37 1-31 1 62 1-11 1-21 1 26 1-20 1 14 1 0 1-19 1 18 1 16 1-33 1 13 1 9 1 4 1-22 1 20 1-13 1-14 1 18" fill="none" stroke="#000" stroke-width="5.2" stroke-linejoin="round"/>
<path d="M330 2131l1 11 1-2 1 31 1-65 1 10 1 22 1-17 1 8 1 13 1-24 1 20 1 0 1 7 1-19 1 8 1-10 1 18 1-12 1 16 1-27 1 10 1-2 1-2 1 22 1-28 1-19 1 57 1 1 1-3 1-37 1 11 1-15 1 6 1 7 1-1 1 7 1-16 1 31 1-11 1-11 1-24 1 40 1 5 1-9 1-23 1 18 1-24 1 49 1-46 1 1 1 38 1-24 1-17 1 17 1-14 1-21 1 32 1 9 1 7 1-22 1 13 1 0 1-1 1-12 1 26 1 7 1 14 1-56 1 17 1-22 1 23 1 12 1-20 1 9 1 18 1-6 1-41 1 22 1-1 1 11 1 6 1-25 1 16 1 10 1-10 1 12 1-17 1-15 1 30 1-35 1 33 1-13 1 15 1-10 1-4 1 7 1 5 1-1 1 2 1 12 1-21 1-10 1-8 1 4 1-29 1 34 1 12 1-37 1 46 1-32 1 30 1-20 1 36 1-45 1 16 1 13 1-42 1 15 1 11 1 12 1-11 1 2 1-14 1-2 1 23 1-2 1 0 1 13 1-12 1-8 1-13 1-9 1 33 1-22 1 16 1-40 1 33 1-8 1 22 1-2 1-16 1 9 1-11 1 30 1-35 1 24 1-41 1 31 1-22 1 39 1-28 1 20 1-6 1-8 1 5 1-9 1-8 1 1 1 12 1 20 1-9 1-10 1 31 1-46 1 16 1 0 1-19 1 4 1 7 1 19 1-20 1-1 1 19 1-30 1 8 1 39 1-33 1 22 1-38 1 5 1 30 1-4 1-15 1 5 1-28 1 12 1 16 1-13 1 41 1-37 1-9 1 16 1 9 1-21 1-22 1 28 1 21 1-41 1 52 1-37 1 17 1-24 1 28 1-35 1 16 1 32 1 4 1-26 1-26 1 19 1 1 1 4 1-15 1 5 1 2 1 20 1-35 1-3 1 42 1-57 1 25 1 19 1 22 1-40 1 1 1 19 1 18 1-46 1 27 1-2 1-52 1 11 1 18 1 23 1-18 1 46 1-38 1 14 1 8 1 5 1-34 1 7 1-1 1-11 1 27 1 6 1 8 1-23 1-17 1 14 1-12 1 28 1-11 1 5 1 7 1-49 1 16 1 25 1 0 1-11 1 22 1-30 1 27 1-15 1 11 1-9 1 13 1 4 1-10 1-4 1-7 1-5 1-24 1 12 1 16 1-15 1 22 1-34 1 14 1 30 1-33 1-1 1 55 1-31 1-4 1 23 1-14 1-2 1-23 1 3 1-37 1 48 1-25 1 17 1-3 1 22 1 12 1-18 1-25 1-13 1 15 1 2 1 21 1-38 1 3 1 29 1-8 1 15 1-39 1 17 1 7 1-8 1-1 1 14 1 13 1 0 1 7 1-35 1-28 1 62 1-29 1-5 1 22 1-19 1 21 1-37 1 28 1-11 1-9 1 17 1 22 1-21 1-21 1 14 1-5 1 20 1-19 1-10 1 11 1-30 1 33 1 14 1 9 1-45 1 19 1-17 1 9 1-19 1 5 1 26 1-10 1-13 1 37 1-44 1 4 1 3 1 19 1-8 1 23 1-19 1 10 1-11 1 9 1-13 1-14 1 39 1-36 1 47 1 3 1-34 1-2 1-7 1 34 1-26 1-3 1-19 1 22 1-11 1 25 1-13 1 4 1-19 1 27 1-3 1-23 1-19 1 22 1 1 1 10 1-23 1 9 1-20 1 23 1 20 1-6 1 7 1 4 1-41 1 7 1 33 1-49 1 24 1 20 1-22 1 7 1 11 1 19 1-32 1-5 1 47 1-51 1-2 1 18 1-10 1 6 1 9 1-8 1-28 1 46 1-28 1 1 1 14 1-4 1 15 1-9 1-14 1-6 1 20 1-64 1 58 1-11 1 5 1 3 1-28 1 29 1-30 1 3 1 35 1-34 1 28 1-56 1 51 1 9 1 15 1-10 1-12 1 7 1 4 1-9 1-8 1-28 1 52 1-19 1 6 1 9 1-4 1-6 1-27 1 15 1 5 1-19 1 5 1 8 1-10 1 20 1-24 1 2 1 14 1 13 1-45 1 24 1-49 1 60 1-24 1 20 1-11 1-10 1 27 1-12 1-4 1 0 1-8 1-7 1 3 1 9 1 10 1 13 1-7 1-4 1-20 1 17 1 14 1-30 1 23 1-1 1-9 1-12 1 48 1-22 1-21 1 8 1 8 1-5 1-32 1 30 1-19 1-2 1 20 1-15 1 15 1 2 1 9 1-33 1 20 1 3 1 9 1-49 1 18 1 14 1 9 1 14 1-31 1 0 1 28 1-42 1 6 1 28 1-7 1-2 1-10 1 5 1 24 1-51 1 19 1-16 1 0 1 24 1-9 1-7 1-1 1 15 1 8 1-11 1 13 1-4 1 24 1-35 1 18 1-8 1-8 1-6 1-27 1 28 1 27 1-26 1 12 1-17 1 18 1 0 1-3 1 2 1 20 1-20 1-11 1-20 1 25 1 1 1-16 1 0 1-17 1 16 1 10 1-22 1-4 1 33 1-10 1 30 1-22 1 9 1-12 1 5 1-6 1-1 1-10 1 4 1 13 1 12 1-42 1-3 1 31 1-17 1 35 1 0 1-21 1-30 1 42 1-3 1-41 1 58 1-43 1 3 1 11 1-6 1-41 1 62 1-13 1-2 1 8 1 10 1-49 1 23 1 33 1-18 1-18 1-1 1 31 1-23 1-6 1-2 1 0 1 37 1-62 1 28 1-27 1-18 1 50 1 18 1-35 1 17 1 5 1 9 1-45 1 35 1 16 1-16 1 12 1-22 1 9 1 11 1-28 1 21 1-23 1-10 1 27 1 5 1-14 1-12 1 15 1-3 1 3 1-6 1-5 1 22 1-4 1-9 1 12 1-14 1-7 1 10 1 9 1 3 1-42 1 14 1 33 1-4 1-46 1 6 1 23 1-17 1 44 1-25 1-13 1 44 1-19 1-26 1-6 1 29 1-15 1-22 1 33 1 16 1-22 1 6 1-29 1 19 1 16 1-54 1 49 1-17 1-3 1-2 1 10 1-7 1 11 1 22 1-20 1 0 1-1 1-5 1 12 1-33 1-4 1 64 1-38 1 12 1 32 1-51 1 17 1-4 1 5 1-30 1-3 1 16 1-7 1 14 1-5 1 15 1-13 1 12 1-18 1-8 1 9 1-15 1-26 1 81 1-36 1 10 1-2 1 15 1-24 1 5 1 6 1-6 1 5 1 30 1-58 1 23 1 11 1-22 1 17 1 25 1-52 1 43 1-24 1-6 1-21 1 2 1 18 1 15 1-6 1-25 1-12 1 21 1 20 1-29 1 24 1 0 1-2 1-15 1 5 1-12 1-5 1 13 1 48 1-11 1-32 1 4 1-38 1 37 1 2 1-19 1-2 1 22 1-12 1 27 1-3 1-37 1 44 1-39 1 4 1-2 1-3 1 6 1 46 1-19 1-7 1-26 1 34 1-7 1-6 1-29 1 47 1-2 1-33 1 46 1-42 1 14 1 19 1-20 1 10 1-21 1-3 1-19 1 25 1-2 1 12 1-10 1-18 1 50 1-44 1 20 1-10 1-5 1-9 1 10 1 11 1-12 1 5 1 3 1-7 1-11 1 12 1 0 1 24 1-20 1 30 1-44 1 28 1-39 1-29 1 58 1-30 1 16 1 16 1 5 1-24 1-14 1 17 1 32 1-8 1-14 1-27 1 18 1-1 1-15 1 24 1-2 1 1 1 27 1-38 1 1 1-10 1 37 1-7 1-30 1 10 1-18 1 38 1-18 1 15 1-17 1 13 1-17 1-10 1 7 1 43 1-48 1 9 1 25 1-3 1-15 1-10 1 17 1 20 1-32 1 1 1-39 1 64 1-65 1 13 1 24 1-23 1 27 1-16 1 30 1-14 1 18 1 10 1-23 1 7 1-22 1-12 1 25 1-4 1-3 1 32 1-33 1 4 1 1 1 18 1 15 1-30 1-10 1-18 1 4 1-6 1 19 1-14 1 23 1-14 1-5 1-31 1 42 1 26 1-45 1 37 1-13 1 4 1 11 1-39 1 13 1 20 1-11 1 8 1-18 1 17 1 7 1-2 1-4 1-13 1 21 1-14 1-9 1-33 1 25 1 66 1-42 1-2 1-13 1-21 1 14 1 52 1-45 1 4 1-6 1-16 1 42 1-38 1 48 1-30 1-6 1-32 1 51 1 17 1-41 1 23 1-38 1 39 1 3 1-37 1 20 1-16 1 42 1-53 1 38 1-24 1 31 1 10 1-23 1-7 1-24 1 21 1-7 1 1 1-42 1 68 1-36 1 24 1-7 1 14 1-30 1 42 1 1 1-20 1 17 1-32 1-4 1 29 1-27 1 25 1-11 1-1 1-32 1 32 1 16 1 0 1-37 1 50 1-21 1-2 1 36 1-34 1-26 1 14 1 19 1-27 1 2 1-26 1 48 1-6 1-8 1 3 1-3 1 3 1 10 1 16 1-19 1 15 1-6 1-9 1-18 1-6 1 32 1-23 1-8 1 14 1 28 1 9 1-52 1-2 1 11 1 23 1-43 1 4 1 22 1 3 1 30 1-47 1 41 1-40 1-1 1 11 1-26 1 33 1-16 1-4 1 10 1 11 1-28 1 14 1 10 1 0 1-6 1-37 1 38 1 6 1 14 1 2 1 12 1-37 1 4 1 18 1 8 1-20 1 3 1 14 1-28 1 2 1 4 1-15 1 25 1-35 1 41 1-27 1-2 1 16 1-11 1 28 1 4 1-23 1 10 1-23 1 9 1-10 1 5 1 2 1 2 1 8 1 1 1-43 1 66 1-28 1-20 1 10 1-18 1 15 1 32 1-17 1 19 1-42 1-8 1 33 1-17 1 16 1 18 1-17 1 20 1-18 1-14 1-9 1-10 1 29 1-10 1-4 1-2 1 59 1-36 1-27 1 33 1-24 1-10 1 47 1-30 1-7 1 4 1 26 1-32 1 15 1-24 1 7 1 17 1-13 1 15 1 0 1 16 1-24 1-18 1 12 1 2 1 11 1-2 1-22 1 39 1-62 1 37 1-39 1 17 1 28 1-20 1 8 1-4 1-5 1 23 1 1 1-4 1 17 1-19 1-9 1 0 1 1 1 10 1-21 1 49 1-29 1-1 1-21 1 4 1-3 1 14 1-16 1 33 1-18 1 38 1-67 1 2 1 38 1 4 1 22 1-10 1-29 1 5 1 23 1-17 1 2 1-19 1-5 1 16 1-6 1 2 1 36 1-39 1 4 1-14 1 44 1-45 1 24 1-16 1-16 1 46 1-3 1-40 1 37 1-4 1-27 1 14 1-17 1 8 1 5 1-17 1-21 1 39 1-27 1 5 1 18 1-7 1 24 1-6 1-15 1 5 1-23 1 44 1-18 1 6 1-9 1-22 1 39 1-35 1 24 1-5 1-22 1 21 1-17 1 9 1 5 1 2 1 23 1-17 1-16 1-1 1 27 1-42 1 7 1 30 1-5 1-26 1 36 1-17 1-13 1 0 1-2 1-8 1 18 1-6 1-43 1 54 1-17 1-10 1 10 1-32 1 16 1-13 1 49 1-61 1-2 1 24 1-34 1 10 1-15 1-18 1 15 1 5 1-25 1-1 1-25 1-24 1-30 1-47 1-39 1-45 1-65 1-61 1-81 1-89 1-99 1-100 1-105 1-106 1-98 1-89 1-64 1-43 1-19 1 12 1 47 1 68 1 88 1 99 1 104 1 109 1 97 1 101 1 85 1 82 1 63 1 65 1 41 1 56 1 25 1 31 1 31 1-5 1 34 1-11 1 42 1 5 1 24 1-31 1 0 1 14 1 9 1 15 1-47 1 27 1 43 1-22 1 38 1-64 1-5 1 10 1 25 1 10 1 15 1-30 1 21 1-5 1 6 1-5 1-19 1-12 1 26 1 3 1 19 1 3 1-2 1-33 1 12 1-12 1 10 1 14 1 15 1-15 1 19 1-58 1 29 1 11 1-40 1 41 1-16 1 13 1-9 1 13 1-15 1-15 1 46 1 17 1-62 1 21 1-12 1 20 1-31 1-5 1 52 1-32 1 23 1 17 1-23 1-15 1 34 1-1 1-44 1 21 1-6 1 27 1-8 1-14 1-1 1 1 1-25 1 25 1 30 1-12 1-14 1-23 1 35 1-6 1-6 1 12 1 2 1-10 1-21 1 9 1 13 1-12 1 30 1-40 1 4 1 8 1 34 1-64 1 87 1-34 1-1 1-29 1 39 1-30 1 6 1 3 1-20 1-10 1 18 1 12 1 35 1-66 1 31 1 28 1-36 1-23 1 28 1 18 1-60 1 29 1 5 1-12 1 56 1-37 1 2 1-43 1 50 1-1 1 15 1-10 1-11 1-8 1 8 1-39 1 27 1-3 1-13 1 13 1 21 1 18 1-34 1 21 1-38 1 37 1 26 1-40 1-19 1 23 1-7 1 1 1-28 1 25 1 6 1 10 1 19 1-55 1 5 1 37 1-27 1 5 1 12 1-1 1-19 1 35 1-12 1-8 1-2 1 4 1-8 1-5 1 25 1-17 1 11 1-37 1 52 1-21 1-16 1 17 1 1 1 4 1-15 1 26 1-20 1 1 1 24 1-31 1 13 1-14 1-10 1 10 1 27 1-27 1 34 1-15 1-43 1 29 1-27 1 31 1-4 1 20 1-37 1 21 1-15 1 3 1-1 1 3 1 7 1-1 1 12 1 25 1-46 1-28 1 17 1-22 1 33 1 25 1 1 1-31 1 7 1 9 1-16 1 28 1-24 1 14 1-8 1-18 1 23 1-27 1 1 1 37 1-55 1 63 1-20 1-15 1 54 1-59 1-2 1 22 1-7 1 1 1 8 1-23 1 26 1-6 1-7 1-9 1-4 1 45 1 10 1-33 1-2 1 18 1-24 1-6 1 4 1-22 1 48 1-19 1-34 1 22 1 32 1-23 1-18 1-16 1 25 1-9 1 41 1-15 1-26 1 38 1-16 1 33 1-60 1 29 1-13 1 37 1-3 1-56 1 38 1 4 1-19 1-1 1 45 1-17 1-19 1 1 1-6 1 14 1-3 1-8 1 16 1 2 1-5 1-10 1 3 1 6 1-4 1-4 1-6 1-1 1 29 1-40 1 46 1-38 1 22 1-23 1-8 1 52 1-44 1 6 1 13 1-15 1 15 1-11 1 21 1-32 1 3 1-3 1 25 1-44 1-2 1 36 1 6 1 0 1-20 1-6 1 32 1 23 1-44 1 8 1-3 1-7 1 29 1-21 1 7 1-12 1-15 1 22 1 15 1-37 1 9 1 16 1 29 1-17 1-18 1-7 1 19 1-17 1 19 1-4 1-16 1 14 1-7 1-13 1-5 1 31 1-6 1 19 1-1 1-28 1 14 1 24 1-42 1 24 1-9 1-13 1 0 1 8 1 34 1-45 1 21 1 14 1 14 1-62 1 21 1 0 1-9 1 13 1 24 1-38 1-5 1 8 1-18 1-6 1 47 1-6 1-24 1 13 1-1 1-12 1 3 1 21 1-10 1 15 1-10 1 17 1 15 1-26 1 1 1-26 1-12 1 28 1-8 1 19 1 5 1-11 1 0 1-10 1 3 1-27 1 33 1 25 1-31 1 13 1-15 1-16 1 31 1-10 1-10 1 25 1-20 1-6 1-5 1-5 1 10 1 3 1 31 1 23 1-30 1-42 1 22 1 42 1-32 1-14 1 39 1-43 1 31 1-39 1 18 1-54 1 78 1-29 1 31 1-46 1 18 1-14 1 14 1 23 1-9 1 10 1-3 1-21 1-17 1 4 1 6 1 19 1-19 1 24 1-18 1-12 1 18 1 5 1 0 1-19 1 17 1 19 1-18 1 12 1-45 1 26 1 26 1-30 1-8 1 6 1 12 1-8 1-3 1-12 1 11 1-34 1 44 1-31 1 27 1 30 1-9 1 11 1-2 1-51 1 33 1-22 1 26 1-16 1 19 1-34 1 20 1 3 1-5 1-41 1 30 1-7 1 37 1-11 1-16 1 38 1-56 1 18 1 5 1 4 1 0 1 5 1-33 1 12 1-10 1 27 1 10 1-39 1 45 1-10 1-23 1-7 1 42 1-18 1-5 1 2 1 13 1-27 1 21 1-5 1 35 1-37 1 32 1-46 1 3 1 18 1-12 1 1 1 5 1-9 1 8 1 6 1 6 1-43 1 26 1 3 1-13 1 20 1 0 1-19 1-6 1 6 1 38 1-27 1 1 1-8 1 23 1 3 1-16 1 13 1 4 1-18 1-17 1 14 1-18 1 37 1-29 1 12 1 15 1-8 1 8 1-11 1 9 1-35 1 28 1 19 1-22 1-10 1 12 1-20 1 31 1-1 1-43 1 28 1-9 1 0 1-1 1 9 1 4 1-22 1 27 1-10 1-10 1 19 1 19 1-34 1-11 1 14 1 34 1-40 1-23 1 61 1 20 1-43 1-6 1-12 1 0 1 12 1-8 1 4 1 4 1 3 1 1 1-14 1 5 1 14 1-26 1 31 1-8 1-7 1 35 1-26 1-21 1 1 1 34 1-6 1 4 1-14 1-3 1 26 1-33 1 4 1 3 1 10 1-8 1 27 1-34 1 0 1 5 1 19 1-42 1 2 1 52 1-40 1 5 1 47 1-53 1-3 1-1 1 10 1 14 1-3 1-17 1-12 1 29 1-4 1-16 1 48 1-44 1 11 1 34 1-51 1 29 1-29 1-10 1 45 1-1 1-20 1 29 1-42 1 9 1-13 1 48 1-35 1-5 1 39 1-46 1 39 1-27 1 26 1-36 1-16 1 28 1 1 1-22 1 30 1-9 1-13 1 7 1-20 1 6 1-12 1 33 1-20 1 33 1-29 1-15 1-10 1 61 1-18 1-15 1 27 1-25 1 0 1 18 1 1 1 7 1-22 1-16 1 17 1-43 1 73 1-15 1-22 1 31 1-25 1-8 1 11 1 6 1-20 1 9 1-5 1 3 1 21 1 8 1-13 1-10 1 7 1-20 1 12 1-12 1 15 1 14 1-27 1 6 1 23 1-7 1-55 1 106 1-78 1 19 1 2 1 4 1 4 1-50 1 49 1-3 1-19 1 7 1 10 1 2 1 18 1-42 1 38 1 23 1-60 1 5 1 7 1 15 1-29 1 39 1 19 1-40 1-12 1 4 1-26 1 22 1 18 1 0 1-19 1 17 1 1 1 28 1-25 1 17 1-27 1 2 1-10 1-19 1 35 1-29 1 45 1-22 1-14 1-18 1 54 1-15 1-7 1 4 1 15 1 12 1-7 1-20 1 22 1-55 1 10 1 55 1-25 1-32 1-2 1 6 1 44 1-18 1-29 1 21 1 9 1-16 1-9 1 15 1-2 1-15 1 29 1 6 1-29 1 34 1-29 1 21 1-27 1 35 1-41 1 15 1 11 1 9 1-12 1 13 1 5 1-40 1 9 1-11 1 45 1 10 1-6 1-39 1-3 1 47 1-51 1 26 1 13 1-19 1-12 1 14 1-1 1 12 1 10 1-18 1 22 1-39 1 25 1-38 1 51 1-53 1 41 1 0 1-21 1-11 1 17 1 5 1-41 1 26 1 30 1-16 1-35 1 24 1-9 1-21 1 46 1-17 1 19 1-12 1-10 1 33 1-26 1 0 1-16 1 29 1 12 1-29 1 26 1-23 1-6 1 25 1-13 1 16 1 31 1-24 1 11 1-37 1 19 1-16 1-2 1-19 1 24 1 1 1-16 1-19 1 29 1-7 1 9 1 9 1 15 1-26 1 4 1-1 1-39 1 41 1-12 1 12 1-27 1 26 1-38 1 37 1-18 1-5 1 22 1-19 1 14 1 14 1-1 1-18 1-26 1 40 1-18 1 23 1-18 1 27 1-9 1-14 1 13 1-9 1-22 1 20 1 10 1 9 1-13 1-29 1 21 1 1 1-15 1-2 1-3 1 23 1 10 1 12 1-17 1-5 1-20 1 7 1 15 1-25 1 37 1-4 1 2 1-2 1-15 1 10 1-2 1-36 1 47 1-8 1-14 1-12 1-1 1 12 1 1 1-2 1-18 1 28 1 23 1-43 1 21 1-19 1-25 1 20 1-30 1 55 1-31 1-4 1-9 1 24 1-16 1-2 1-2 1 21 1 2 1-38 1 0 1 1 1-13 1-11 1 28 1-33 1-16 1 0 1-1 1-10 1 18 1-21 1-28 1-15 1 0 1-3 1-14 1-19 1-17 1 3 1 5 1-10 1 3 1-10 1 20 1 13 1 11 1 22 1 10 1 6 1 15 1-1 1 11 1-2 1 0 1 25 1 11 1 30 1-26 1 1 1 25 1-2 1 9 1-24 1 10 1-7 1 41 1-59 1 58 1 4 1-17 1 13 1-37 1 38 1 6 1-26 1-4 1 36 1-5 1-1 1-3 1-31 1 9 1 4 1-3 1 21 1-13 1 16 1 12 1-41 1 59 1-29 1 10 1 19 1-22 1-7 1-6 1 22 1-27 1 8 1-8 1 47 1-25 1 3 1-20 1 23 1-4 1 11 1 1 1-4 1-33 1 35 1 24 1-47 1 13 1-17 1 0 1 15 1 2 1 3 1-10 1 14 1-17 1-20 1 35 1 0 1 0 1-22 1 0 1-14 1 13 1 10 1-6 1 31 1-33 1 7 1-33 1 12 1 39 1-5 1-25 1 52 1-20 1-23 1-5 1 8 1-17 1 26 1-7 1 5 1 16 1-20 1 11 1-11 1 47 1-48 1 12 1 1 1-12 1 9 1-24 1-6 1 7 1-2 1 11 1 6 1 23 1-16 1-28 1 8 1 22 1-11 1-16 1 21 1-31 1 42 1-27 1 1 1 9 1-2 1-4 1 49 1-48 1-12 1 14 1-13 1 40 1-19 1-7 1 10 1-25 1 12 1 18 1-24 1 0 1 22 1-18 1 4 1 0 1 29 1-45 1 11 1 12 1-6 1 0 1 11 1 5 1-12 1 12 1-2 1 12 1-15 1-23 1 14 1 3 1 6 1 2 1 19 1-55 1 42 1 13 1-33 1 2 1 14 1 17 1-2 1-52 1 30 1 9 1-44 1 43 1 6 1-26 1 4 1-22 1 55 1-32 1 35 1-38 1 19 1-3 1 5 1-28 1-14 1 31 1 3 1 4 1-18 1 27 1-80 1 66 1-34 1 27 1 27 1 4 1-21 1 6 1-9 1 16 1-61 1 4 1 69 1-40 1-13 1 27 1-2 1-23 1 10 1 31 1-43 1 30 1-41 1 49 1 24 1-42 1-20 1 12 1 7 1 19 1-33 1 49 1-47 1 36 1-11 1 13 1-7 1-43 1 48 1-25 1 18 1-32 1 42 1-24 1-16 1-24 1 61 1-5 1-15 1-27 1 44 1-33 1 26 1 8 1 9 1-30 1-15 1 19 1 36 1-28 1-27 1 2 1 10 1-21 1 49 1-1 1-64 1 30 1 16 1 5 1 37 1-61 1 52 1-2 1-34 1-28 1 34 1-13 1 14 1-15 1 37 1-67 1 55 1-28 1 47 1-69 1 24 1-28 1 48 1-30 1 21 1-2 1-24 1 39 1-29 1-22 1 4 1 12 1 13 1 23 1-43 1 38 1-34 1 28 1-7 1 1 1-11 1 18 1-11 1 13 1-19 1 4 1-2 1 23 1-21 1 5 1-10 1 10 1 18 1-30 1 25 1-18 1 43 1-46 1-3 1 28 1-27 1 17 1-31 1 13 1 34 1-19 1 28 1-26 1-15 1-5 1 16 1 3 1-7 1 13 1-16 1-15 1 17 1-12 1 29 1-5 1-15 1-30 1 18 1-12 1 29 1-21 1 52 1-39 1 46 1-59 1 13 1-12 1 14 1 16 1 4 1-17 1-23 1 15 1 21 1 1 1 2 1-9 1-2 1 7 1-9 1 29 1-56 1 23 1-23 1 22 1 9 1-5 1-3 1 16 1-5 1-41 1 17 1 26 1-18 1 24 1-40 1 43 1-34 1 16 1-1 1 15 1-9 1 9 1 1 1-23 1-37 1 51 1-24 1 18 1 13 1-37 1 13 1-9 1 18 1-1 1 17 1-9 1-35 1 70 1-47 1-19 1 12 1-2 1 20 1-24 1-1 1 21 1-30 1 38 1 36 1-44 1 2 1 13 1-7 1 1 1 23 1-54 1 22 1-48 1 48 1-7 1 33 1-44 1 37 1-29 1-7 1 3 1 28 1 0 1-28 1-7 1-5 1 26 1 1 1-33 1 42 1-24 1 19 1 20 1-6 1-27 1 4 1-5 1 15 1 3 1-14 1 8 1 25 1-21 1-37 1 43 1-23 1 11 1-14 1 28 1 7 1-30 1 20 1-12 1 5 1-22 1 12 1 2 1 20 1 11 1-13 1-30 1 3 1 1 1 18 1 11 1-38 1 17 1-7 1 26 1-4 1-24 1-1 1 30 1-22 1 25 1-42 1 10 1-28 1 13 1 38 1-15 1 12 1-11 1-11 1 14 1-1 1 24 1-33 1 10 1-11 1-8 1 18 1-12 1 23 1-27 1 17 1 10 1-6 1 21 1-14 1-4 1-8 1 2 1 10 1-8 1 34 1-39 1-8 1-4 1-5 1 22 1-2 1 7 1 0 1-10 1-22 1 53 1-20 1-14 1 22 1-24 1 31 1-18 1 23 1-34 1 19 1-25 1 16 1 12 1-10 1-9 1 2 1 5 1 1 1-6 1-15 1 25 1-18 1 31 1-39 1 10 1 12 1 0 1 24 1-32 1 6 1 20 1-16 1-18 1 7 1-2 1 15 1-25 1 15 1-15 1-24 1 74 1-26 1-9 1 13 1-31 1 24 1-35 1 15 1 6 1 8 1-15 1 6 1-17 1 18 1-11 1 11 1 1 1 33 1-27 1-7 1 28 1 3 1-19 1-10 1 35 1-35 1-12 1 21 1-8 1-4 1 20 1-23 1 3 1 30 1-31 1-6 1 34 1-34 1 20 1 18 1-5 1-3 1-24 1 17 1-1 1 15 1-22 1 22 1-10 1-23 1-1 1 21 1-8 1-10 1 9 1-21 1-3 1 25 1 20 1-18 1-27 1 4 1-1 1 1 1 29 1-14 1-14 1 14 1-11 1 33 1 4 1-57 1 22 1 3 1-15 1-14 1-11 1 93 1-49 1-12 1 52 1-2 1-29 1-36 1 17 1-22 1 33 1-14 1-8 1 19 1 9 1-3 1 67 1-70 1 38 1-18 1-27 1 5 1 42 1-44 1-4 1 10 1-9 1 2 1 40 1-26 1 2 1 16 1-21 1 14 1-13 1 14 1-34 1-21 1 49 1-10 1-1 1-7 1 11 1 37 1-46 1 9 1 16 1-15 1 5 1-13 1 10 1-1 1-7 1-2 1 4 1-20 1 16 1 18 1-44 1 28 1-26 1 47 1-29 1-20 1 8 1 20 1 12 1 1 1-8 1 14 1-4 1 4 1 0 1-21 1 35 1-34 1-9 1 28 1 0 1-17 1 1 1-17 1 52 1-34 1-26 1 23 1-30 1-7 1 48 1-36 1 17 1 9 1 5 1-1 1 12 1-13 1-20 1-5 1 28 1-16 1 1 1 50 1-54 1 34 1-1 1-35 1-15 1 49 1-4 1 1 1-8 1-2 1 8 1 13 1-59 1 40 1 4 1-29 1 22 1-26 1 6 1-4 1 24 1-18 1 38 1-3 1-25 1 6 1-29 1 28 1 26 1-32 1 6 1-8 1 23 1-7 1-15 1-12 1 6 1-6 1 38 1-22 1-7 1-13 1 11 1 9 1-2 1-1 1 23 1-25 1-14 1 1 1 44 1-32 1 26 1-45 1 9 1-3 1 23 1 21 1-15 1-12 1 19 1-9 1-48 1 52 1-32 1 41 1-37 1-10 1 6 1-14 1-10 1 53 1-29 1-5 1 1 1-20 1 21 1-17 1 0 1 16 1-8 1 20 1-19 1 0 1 4 1 4 1-25 1 15 1-40 1 13 1 6 1 18 1-26 1 9 1-3 1 13 1-29 1 0 1 5 1-3 1-12 1 7 1-18 1-32 1 15 1-43 1 30 1-36 1-11 1-12 1-6 1 7 1-31 1-8 1 1 1 11 1-23 1 14 1 0 1-4 1 7 1 17 1 19 1-9 1 16 1 24 1 19 1-3 1 29 1-28 1 23 1 19 1-3 1 34 1-16 1 14 1 18 1-9 1-10 1 30 1-15 1 22 1-23 1 34 1-37 1 3 1-1 1-14 1 28 1 3 1-7 1 19 1 25 1-10 1 1 1-22 1 15 1-3 1-16 1 7 1-29 1 35 1 16 1-37 1 29 1-5 1-18 1 14 1-8 1 23 1-5 1-16 1 20 1-2 1-6 1-28 1 3 1 21 1 3 1 14 1-35 1 16 1-9 1 41 1-38 1 11 1-10 1-5 1 18 1 7 1-19 1 33 1-45 1 19 1 25 1-42 1 6 1-10 1 9 1 9 1 10 1 18 1-32 1 3 1 18 1-18 1 26 1-34 1 16 1-2 1 17 1-29 1 14 1 13 1-17 1 11 1-22 1 45 1-7 1-55 1 44 1-17 1 16 1-11 1-42 1 81 1-45 1 9 1 0 1 15 1 3 1-41 1 15 1 30 1-21 1 24 1-74 1 44 1 38 1-48 1 5 1 6 1 2 1 13 1-6 1 32 1-58 1-13 1 27 1-2 1 35 1-17 1 18 1-2 1-33 1-15 1 26 1-45 1 29 1 55 1-33 1-30 1 20 1-15 1 48 1-52 1 43 1-27 1-31 1 36 1 5 1-17 1 28 1 2 1-34 1 44 1-5 1-53 1 54 1-30 1-12 1 20 1 18 1-33 1 31 1-54 1-2 1 58 1-29 1 23 1-19 1 11 1 13 1-27 1 39 1-35 1 8 1 11 1-29 1 15 1 7 1-3 1 1 1-21 1 22 1 46 1 4 1-37 1 4 1-17 1 19 1-10 1-38 1 47 1-38 1 17 1-25 1 7 1 15 1-19 1 15 1 24 1-28 1-1 1 11 1-6 1 12 1-14 1 11 1 22 1-22 1-33 1 13 1-12 1 27 1 7 1 12 1-22 1-15 1 3 1 2 1 22 1-11 1 16 1-29 1 4 1 22 1-13 1 42 1-53 1 27 1-8 1-17 1-1 1 24 1-40 1-8 1 10 1 3 1 22 1-24 1 40 1 4 1-22 1-2 1 20 1-47 1 58 1 10 1-29 1-36 1 15 1 8 1 3 1-7 1 4 1 4 1 4 1 26 1-45 1 24 1-14 1-2 1-10 1 33 1-29 1 0 1 17 1-1 1-4 1 21 1-10 1 12 1-41 1 35 1 5 1-22 1-7 1 16 1 11 1-25 1-7 1 44 1-45 1 47 1-43 1 20 1-4 1-17 1-13 1-11 1 12 1 13 1 35 1-16 1-10 1 13 1-21 1 15 1-36 1 35 1 19 1-13 1 3 1-25 1-12 1 7 1-1 1 31 1 7 1-5 1-15 1 7 1-12 1-13 1 17 1-29 1 44 1-25 1 12 1-19 1 19 1 9 1-8 1 14 1 4 1-34 1 25 1-32 1-24 1 52 1-22 1 16 1 33 1-32 1-28 1 48 1-19 1 0 1 23 1-31 1 8 1-13 1 9 1 26 1-27 1-9 1 16 1-15 1 1 1 48 1-50 1 47 1-13 1-20 1 15 1-3 1-34 1 39 1-40 1-12 1 8 1 44 1 8 1-28 1-37 1 42 1 6 1-8 1-16 1-7 1 21 1 2 1-11 1 8 1 8 1 24 1-33 1 12 1-6 1 1 1 10 1-25 1-9 1 9 1 21 1-14 1-10 1 14 1-14 1 38 1-22 1-29 1 8 1 20 1-5 1-36 1 19 1 32 1-18 1 13 1 3 1 11 1-35" fill="none" stroke="#00ff00" stroke-width="5.2" stroke-linejoin="round"/>
<path d="M330 2374l1-6 1-22 1 12 1 28 1-19 1 7 1-9 1 21 1-22 1 0 1-16 1 16 1-3 1 25 1-46 1 51 1-36 1 17 1 7 1-3 1 1 1-13 1 6 1-19 1 40 1-22 1 11 1-20 1 35 1-21 1-7 1 21 1-30 1 10 1-10 1 1 1 23 1-2 1-7 1-11 1-2 1 19 1-1 1 3 1-3 1-4 1-1 1-26 1 31 1-3 1-9 1 18 1-7 1-5 1-9 1 25 1-32 1 21 1-6 1-8 1 2 1-5 1 11 1 3 1-4 1 16 1-27 1 24 1 6 1-40 1 27 1 13 1-37 1 27 1-17 1 23 1-7 1 17 1 3 1-11 1-11 1-10 1-19 1 41 1-24 1 19 1-5 1 16 1 0 1-8 1 5 1-14 1 8 1-23 1 13 1 0 1-11 1 7 1 7 1 1 1 0 1-14 1 4 1 5 1-5 1 16 1-13 1 23 1-32 1 15 1-1 1-5 1 7 1 3 1-17 1 13 1 12 1-16 1 26 1-40 1 22 1-2 1-27 1 2 1 24 1-6 1-5 1-7 1 22 1-4 1-12 1 11 1-6 1 2 1 21 1-3 1 21 1-28 1-19 1 29 1-27 1 3 1 12 1 0 1-1 1 11 1-7 1-2 1-8 1-2 1 18 1-18 1 19 1-7 1-6 1 4 1 2 1-5 1 10 1 1 1-5 1-14 1 13 1-23 1 20 1 37 1-29 1-25 1 20 1 5 1 5 1-26 1 4 1 4 1 3 1-12 1 8 1 24 1-23 1 7 1 3 1-10 1 9 1 35 1-53 1 6 1 14 1 3 1-7 1 18 1-18 1 6 1 2 1 6 1-2 1-21 1-3 1 10 1 7 1 9 1-18 1-10 1 37 1-32 1 39 1-21 1-8 1 20 1 2 1-20 1-8 1 16 1-21 1 25 1-30 1 20 1-2 1-4 1 4 1-18 1-4 1 19 1 9 1 12 1-5 1-9 1 2 1-1 1 0 1-6 1 22 1-4 1-25 1 3 1 17 1-22 1 23 1-4 1 18 1-31 1 10 1-12 1 4 1 7 1 0 1-12 1 15 1 0 1-2 1-8 1-2 1-11 1 23 1-15 1 22 1-15 1 6 1-19 1 14 1 12 1-12 1 3 1 8 1 0 1 7 1-42 1 30 1-10 1 25 1-1 1-10 1 0 1-11 1 21 1-18 1-11 1 28 1-21 1 22 1-15 1 0 1-16 1 28 1-10 1-9 1 25 1-13 1 10 1-2 1-16 1 0 1-21 1 14 1 1 1 17 1 1 1-5 1 28 1-45 1 27 1 5 1-7 1-15 1-4 1 18 1-9 1 6 1 11 1-13 1 1 1 18 1-30 1 31 1-21 1 15 1-3 1-1 1-16 1 22 1-12 1-20 1 26 1-8 1-8 1 14 1-12 1 13 1-15 1 7 1 11 1-26 1 17 1 2 1 7 1-5 1-4 1-3 1-11 1 28 1-11 1-18 1 12 1-3 1-13 1 14 1-1 1 5 1-20 1 8 1 20 1-14 1 19 1-26 1 5 1 10 1 2 1 16 1-29 1 10 1 2 1-11 1 16 1-1 1 1 1 7 1-43 1 30 1 2 1-14 1 46 1-36 1 0 1 11 1-16 1 28 1-23 1-10 1 36 1-9 1-15 1-1 1 7 1-11 1 1 1 19 1-14 1 13 1 9 1 4 1-39 1 13 1-24 1 40 1-13 1-8 1 6 1-8 1 4 1 9 1 20 1-16 1-31 1 11 1-7 1 22 1-4 1 8 1-15 1 4 1-5 1-15 1 30 1-18 1 24 1-28 1 17 1-4 1-2 1-17 1 19 1 5 1 8 1-17 1 13 1-4 1-5 1-8 1 16 1-16 1-13 1 37 1-32 1-9 1 31 1-14 1 23 1-20 1 8 1-7 1 14 1-1 1-4 1 3 1-1 1-5 1 10 1-11 1-7 1 32 1-29 1 11 1 4 1 3 1-6 1-1 1-12 1 18 1-26 1 21 1-17 1-5 1 27 1-27 1-12 1 30 1-12 1 8 1-3 1 3 1 4 1-15 1-1 1 10 1-18 1 5 1 4 1 17 1-30 1 6 1 40 1-12 1-7 1-17 1-3 1 17 1-6 1-5 1 23 1-22 1 11 1-6 1 3 1 13 1-3 1-11 1-1 1 4 1-15 1 16 1 10 1-10 1-2 1-1 1-14 1 7 1-6 1 5 1 9 1-14 1 15 1-6 1 14 1-12 1 5 1-8 1-17 1-6 1 15 1 12 1-10 1 7 1 10 1-6 1 2 1 4 1-23 1 22 1 0 1-14 1 16 1 5 1-3 1-16 1 2 1 0 1 9 1 5 1-21 1 27 1-14 1 13 1-11 1-2 1-16 1 47 1-49 1 26 1-14 1-5 1 17 1-7 1-7 1 7 1 7 1-10 1 0 1 19 1-33 1 13 1 30 1-18 1-29 1 1 1 16 1 22 1-17 1-15 1 8 1 8 1 5 1-18 1 12 1-6 1-2 1-13 1 16 1 0 1 23 1-33 1 2 1 11 1 25 1-19 1-7 1-23 1 17 1-3 1 0 1-6 1 29 1-4 1 4 1-10 1 1 1-6 1 13 1-12 1 10 1-34 1 31 1-36 1 11 1 32 1-24 1 4 1 24 1-24 1 8 1-5 1 13 1-9 1-5 1 7 1 5 1-6 1 10 1-15 1 33 1-47 1 17 1-5 1-4 1 24 1-40 1 38 1-18 1 2 1-11 1 15 1 16 1-20 1 32 1-26 1 3 1-23 1 21 1 2 1 3 1 1 1-3 1-14 1 22 1-13 1 15 1-15 1-4 1 16 1-8 1-7 1-8 1-2 1 12 1 10 1 7 1-27 1-8 1 12 1-14 1 24 1-1 1-23 1 30 1-19 1 3 1 2 1-18 1 30 1-5 1 19 1-12 1-6 1-2 1-2 1-6 1 11 1 15 1-24 1-4 1 19 1-5 1-29 1 8 1-1 1 5 1 6 1 8 1-13 1 9 1 3 1-5 1 0 1-11 1 22 1-40 1 40 1-7 1-16 1 21 1-4 1-6 1 34 1-28 1 5 1-8 1-9 1-2 1-10 1 1 1 5 1 12 1-13 1 24 1-11 1-17 1 7 1 25 1-9 1-18 1 4 1-6 1 33 1-6 1-11 1 8 1-11 1-1 1-4 1 6 1-8 1-3 1 7 1 16 1-29 1 12 1-2 1 3 1 20 1-25 1 14 1 7 1-29 1 18 1-7 1-7 1-9 1 40 1-12 1-17 1 16 1 30 1-40 1-1 1-6 1 6 1 8 1-8 1 3 1 5 1-8 1-2 1 16 1-24 1 3 1 0 1 41 1-33 1 3 1 10 1-19 1 24 1-32 1 10 1 11 1-23 1 11 1 2 1 19 1-22 1-10 1 3 1 28 1-31 1-3 1 9 1 15 1 13 1-7 1-4 1-10 1-3 1 15 1 10 1-14 1 10 1-31 1 30 1-20 1-4 1 21 1-23 1 13 1 8 1 2 1-13 1-11 1 35 1-30 1 9 1 7 1-7 1-2 1 1 1-10 1 20 1-34 1 13 1 17 1 16 1-23 1 5 1-14 1 0 1-14 1 24 1-11 1 14 1 0 1-23 1 20 1-1 1 3 1-8 1-3 1 8 1 12 1-18 1 14 1-5 1-7 1-1 1 30 1-47 1 11 1-14 1-7 1 41 1-5 1-9 1-8 1 17 1-3 1-16 1 23 1-13 1-10 1 16 1-13 1 11 1 17 1-12 1-4 1 1 1-4 1-4 1 1 1 1 1 8 1-3 1 2 1 2 1-23 1 39 1-25 1 22 1-12 1-17 1 13 1-20 1 28 1-8 1 4 1-8 1 4 1 1 1-5 1-12 1 11 1 1 1 4 1 5 1 9 1-5 1-13 1 23 1-30 1 13 1 6 1-5 1-14 1 3 1 1 1-17 1-7 1 42 1-26 1 20 1 7 1-11 1-18 1 15 1 2 1-22 1 10 1 7 1-23 1 16 1 14 1 4 1-8 1-7 1-10 1 2 1 8 1 15 1-25 1 10 1 14 1 2 1-17 1-2 1-6 1 25 1-38 1 45 1-22 1-16 1 4 1 23 1-18 1-8 1 6 1 20 1-31 1 39 1-20 1 13 1-7 1-1 1-10 1 21 1-18 1-13 1 15 1-6 1 1 1 14 1-4 1-5 1-6 1-18 1 5 1 25 1-1 1 7 1 15 1-43 1 9 1 30 1-24 1-28 1 23 1-1 1 4 1 11 1 5 1-4 1-12 1 5 1-12 1-12 1 14 1-4 1 15 1 11 1-42 1 18 1-6 1 19 1 15 1-36 1 42 1-24 1 4 1-9 1-7 1 0 1 35 1-37 1 34 1-31 1 14 1 8 1-7 1 9 1-16 1-11 1 1 1 9 1-12 1 7 1-20 1 19 1 14 1-4 1 6 1-6 1-2 1-10 1-1 1 8 1-4 1 14 1-2 1 23 1-21 1-3 1-37 1 47 1-17 1 5 1 15 1-23 1 3 1 18 1 10 1-27 1 16 1-25 1 11 1-10 1 10 1-22 1 10 1-10 1 17 1 14 1 4 1-11 1-9 1 11 1-38 1 31 1-7 1 5 1 16 1-28 1 4 1-2 1 22 1-12 1 0 1-14 1 31 1-25 1-8 1 21 1 4 1-26 1 13 1-11 1 5 1-4 1 15 1 24 1-33 1 15 1-16 1 14 1-26 1 22 1-13 1-3 1 14 1-5 1 4 1 11 1-29 1 29 1 8 1-13 1-8 1 1 1 5 1 1 1 21 1-34 1-14 1 30 1 14 1-32 1 11 1 47 1-39 1 8 1-3 1-40 1 13 1 14 1-2 1-20 1 33 1-23 1 17 1-18 1 7 1 12 1-22 1 6 1-16 1 28 1-7 1 10 1-23 1 24 1-9 1-17 1 10 1 3 1 0 1-1 1-4 1 12 1 21 1-42 1 30 1-36 1 19 1-36 1 25 1 9 1-6 1 29 1-20 1 7 1-5 1 26 1 2 1-37 1 9 1 6 1-4 1 6 1-2 1-14 1 11 1-12 1 18 1 14 1-15 1-6 1 12 1-9 1 1 1-18 1 1 1-3 1 23 1-14 1-12 1 14 1 3 1 9 1-20 1 8 1-10 1 14 1-28 1 26 1 15 1-18 1-3 1-10 1 22 1 0 1-3 1 1 1 22 1-36 1-6 1 25 1 2 1-10 1 8 1-20 1 18 1-16 1 23 1 2 1 2 1-2 1-23 1-5 1 8 1-1 1 30 1-41 1 29 1-32 1-14 1 30 1-7 1 0 1 24 1-3 1-5 1-11 1-9 1 9 1-12 1 20 1 11 1-18 1 1 1 17 1-31 1 25 1-3 1-12 1 16 1-21 1 3 1-1 1 5 1 6 1 3 1-13 1-13 1 7 1 5 1-8 1-4 1 31 1-15 1-15 1 22 1-2 1-13 1 10 1-18 1 18 1-11 1-24 1 17 1 30 1-4 1 0 1-12 1 16 1-24 1-15 1 2 1 28 1-7 1 0 1 6 1-31 1 27 1 4 1-19 1-2 1-16 1-4 1 14 1 12" fill="none" stroke="#ff0000" stroke-width="5.2" stroke-linejoin="round"/>
<path d="M1604 2353l1-35 1-11 1-19 1 6 1-23 1-32 1-25 1-30 1-32 1-40 1-38 1-43 1-49 1-47 1-48 1-46 1-36 1-41 1-31 1-20 1-16 1-5 1 4 1 17 1 22 1 32 1 34 1 43 1 45 1 44 1 49 1 48 1 40 1 41 1 39 1 37 1 27 1 29 1 30 1 11 1 2 1 30 1 1 1 0" fill="none" stroke="#ff0000" stroke-width="2.8" stroke-linejoin="round"/>
<path d="M1648 2317l1 18 1 11 1 0 1-3 1 14 1-8 1-1 1 12 1-12 1 2 1 11 1-1 1-4 1 4 1 1 1 10 1-14 1-7 1 1 1 18 1-17 1 0 1 19 1-18 1 9 1 2 1-7 1 5 1 25 1-30 1 16 1-12 1-9 1 11 1 2 1-7 1-4 1 16 1-2 1-14 1-13 1 19 1-10 1 19 1-9 1-1 1 17 1-16 1 3 1 28 1-30 1-4 1 0 1-1 1 18 1-5 1-6 1 8 1-5 1-20 1 25 1-6 1-27 1 24 1 11 1-16 1 1 1 0 1 22 1-23 1-2 1-20 1 16 1 14 1-9 1-5 1 10 1-1 1-18 1 11 1-1 1 18 1-17 1 28 1-38 1 21 1-14 1-9 1 30 1-28 1 12 1-12 1 19 1 3 1-24 1 11 1 4 1 15 1-31 1 21 1-2 1 6 1-9 1-7 1 8 1 0 1 6 1-25 1-2 1 23 1 8 1-14 1 22 1-22 1-1 1 2 1-18 1-3 1 17 1 10 1-17 1-2 1 29 1-6 1-6 1 17 1-7 1-33 1 35 1-26 1 20 1-22 1 8 1-7 1 28 1-21 1 11 1-16 1 0 1 7 1 3 1-1 1-4 1 10 1-1 1 2 1 5 1-26 1 29 1-32 1 7 1 30 1 1 1-23 1 14 1-15 1-10 1 7 1 7 1 0 1-21 1 23 1-26 1-4 1 29 1-8 1-17 1 29 1-14 1-8 1 26 1-18 1 3 1 8 1-25 1 20 1-29 1 19 1 17 1-12 1 12 1-19 1 2 1 22 1-9 1-11 1 5 1 12 1-25 1-3 1 35 1-37 1 43 1-23 1 6 1-1 1-9 1 16 1-13 1-22 1 15 1-12 1 7 1 31 1-42 1 11 1 2 1 13 1 2 1 6 1-11 1-3 1 3 1 0 1 22 1-15 1 0 1-13 1 9 1 0 1-7 1 7 1-2 1-17 1 15 1 9 1-18 1-3 1 2 1 24 1-28 1 11 1-1 1 0 1-4 1-1 1-12 1 15 1 4 1-9 1 9 1-15 1 12 1-8 1 16 1-19 1 5 1 18 1-6 1-6 1 17 1-3 1-19 1 0 1-11 1 32 1-11 1 20 1-46 1 38 1-14 1-26 1 6 1 28 1-38 1 22 1 18 1-16 1-5 1 0 1 34 1-49 1 42 1-17 1-20 1 13 1 5 1 7 1-15 1-10 1 24 1-12 1 9 1 1 1 20 1-29 1-8 1 13 1-15 1 11 1-13 1 13 1 6 1 2 1-8 1-2 1 13 1-8 1 15 1 0 1-25 1 3 1-6 1 9 1-1 1-20 1 33 1-14 1-16 1-6 1 18 1 8 1 12 1-11 1-4 1 2 1-6 1-1 1 12 1 6 1-8 1-9 1-14 1 39 1-33 1 17 1-17 1-10 1 17 1 20 1-9 1-10 1 9 1-3 1 8 1-7 1 5 1-18 1 7 1-6 1 29 1-14 1 3 1-4 1 6 1-2 1-28 1 22 1 12 1-12 1-31 1 19 1 20 1-9 1-2 1-1 1 23 1-11 1-10 1 19 1-19 1-3 1-9 1-3 1 15 1-5 1-6 1-4 1 12 1 10 1-17 1-3 1 8 1-5 1-12 1 25 1 3 1 4 1-17 1-8 1 18 1-28 1 29 1-11 1 5 1-18 1 24 1-28 1 22 1 14 1-9 1-5 1-23 1 27 1-6 1-26 1 24 1 9 1 2 1 10 1-24 1-10 1 19 1 8 1-16 1 3 1 2 1-7 1 5 1 5 1-17 1 35 1-9 1-10 1 13 1-35 1 45 1-36 1 2 1 3 1-1 1 12 1 2 1-27 1 20 1 16 1-3 1 4 1-23 1-11 1 18 1-5 1 8 1-18 1 0 1 0 1-11 1 37 1-25 1 29 1-28 1-2 1 1 1-1 1 12 1 6 1-18 1 17 1-16 1 19 1-15 1 1 1 13 1-6 1-15 1 11 1-6 1 13 1-9 1 20 1-9 1-25 1 9 1 6 1-1 1 18 1-22 1 20 1-6 1-17 1 17 1-3 1-5 1-2 1-15 1 37 1-16 1-12 1 13 1-1 1 5 1-6 1-12 1-7 1 10 1-12 1 15 1 22 1-30 1 34 1-24 1-1 1 14 1-11 1 4 1-9 1 6 1-11 1 12 1-13 1 8 1-3 1 1 1 7 1-19 1 6 1 35 1-13 1-35 1 24 1-38 1 29 1 0 1 11 1-3 1-5 1-9 1 10 1 1 1 12 1-7 1 0 1-4 1 8 1 4 1-9 1 26 1-12 1-8 1-15 1 13 1 5 1-21 1 10 1-19 1 20 1 6 1-4 1-27 1 3 1 17 1-11 1 30 1-32 1 11 1 5 1-1 1-3 1 8 1-1 1 11 1-34 1 30 1-9 1-15 1-2 1-2 1 24 1-1 1-5 1 22 1-33 1 30 1-18 1-13 1 1 1 16 1-17 1-2 1 34 1-17 1-12 1 3 1 8 1-1 1-30 1 33 1-18 1 27 1-21 1-6 1 18 1 2 1-30 1 24 1-15 1 30 1-38 1 45 1-14 1-4 1-7 1-3 1-17 1-6 1 2 1 13 1 7 1 28 1-24 1 6 1-15 1 20 1-3 1-1 1-17 1 6 1 15 1 8 1-14 1 1 1-2 1-7 1-8 1-1 1 18 1 1 1-28 1 21 1-12 1 7 1-3 1-15 1 23 1-17 1 7 1 8 1 4 1 1 1-21 1 2 1 22 1-15 1 27 1-23 1-25 1 40 1-18 1 11 1-9 1 15 1-16 1 31 1-25 1 0 1-3 1-26 1 40 1-6 1 8 1-23 1 6 1 15 1-26 1 8 1-15 1 9 1 8 1 11 1 17 1-20 1-21 1 17 1 7 1-13 1-6 1-26 1 47 1-8 1 10 1-5 1-21 1 13 1 17 1-35 1-5 1 12 1 22 1 1 1-30 1 29 1-5 1 11 1-43 1 33 1-7 1 8 1-1 1 6 1-29 1 23 1-27 1 34 1-22 1-6 1 27 1-18 1 10 1 7 1-9 1 19 1-20 1 15 1-27 1-11 1 1 1 27 1-8 1-26 1 9 1 8 1 34 1-22 1-33 1 22 1 12 1-7 1-29 1 14 1 32 1-2 1-15 1-16 1 26 1-2 1 25 1-24 1-16 1 0 1 26 1-28 1 20 1 8 1-25 1 28 1-15 1 5 1-9 1-5 1 9 1 5 1-4 1 24 1-29 1-29 1 22 1-11 1 15 1 0 1-6 1-3 1 0 1 19 1-11 1 19 1-32 1 13 1 4 1 12 1-22 1-7 1 6 1-8 1 24 1-22 1 12 1 35 1-39 1 17 1-11 1 6 1 3 1-25 1 20 1-9 1-7 1 14 1 11 1-17 1 2 1 10 1-13 1-15 1 3 1-7 1 2 1 15 1 2 1 15 1-30 1 23 1-15 1-15 1 20 1 21 1-6 1-9 1-22 1 22 1-3 1 13 1-19 1 3 1-9 1 23 1-20 1 26 1-10 1-1 1-5 1-8 1 36 1-29 1 4 1 12 1-14 1-10 1 12 1 1 1-16 1 19 1-24 1 9 1-1 1-2 1-9 1 26 1-25 1 27 1-17 1-3 1 6 1 16 1 2 1-2 1-14 1-3 1-5 1 27 1-24 1-9 1 11 1 2 1-11 1-10 1 1 1-1 1 37 1-36 1 23 1-15 1 19 1-13 1 12 1-3 1-30 1 41 1-28 1 12 1 15 1-32 1 17 1 7 1-11 1 14 1-32 1 41 1-13 1 20 1-30 1-7 1-2 1-8 1 20 1 6 1-18 1 20 1-13 1 11 1 3 1-9 1-15 1 2 1 10 1 37 1-35 1-5 1-2 1 16 1-23 1 9 1 29 1-35 1-11 1 18 1 13 1-34 1 11 1 37 1-38 1 8 1 2 1 27 1-1 1-25 1-23 1 23 1 1 1 9 1-2 1-19 1 23 1-34 1 18 1 2 1 6 1 8 1-6 1 16 1-20 1 26 1-55 1 30 1 20 1-24 1 2 1 9 1-11 1 14 1-9 1 1 1-9 1 14 1-12 1 41 1-51 1 11 1-5 1 11 1-15 1 12 1-4 1 2 1 7 1 5 1-19 1-1 1 8 1-17 1 14 1-4 1-9 1 5 1 12 1 11 1-4 1 3 1-24 1 56 1-72 1 37 1-26 1 10 1-3 1 23 1-30 1 14 1-10 1 20 1-12 1 8 1-14 1-5 1 11 1-9 1-2 1 7 1 1 1 20 1-38 1 9 1 4 1-7 1 7 1-5 1-12 1 20 1-16 1-10 1 16 1-10 1-28 1-13 1 13 1-9 1 7 1-24 1 5 1-7 1-7 1 1 1-3 1-6 1 5 1-2 1 15 1-6 1-5 1 1 1 9 1 17 1-1 1 14 1 8 1-15 1 18 1 4 1-1 1-4 1 11 1 7 1-4 1 7 1 5 1 24 1-14 1-7 1 12 1-35 1-4 1 7 1 34 1-17 1 1 1 2 1 25 1-32 1-9 1 11 1-16 1 31 1-13 1-7 1 28 1-10 1 9 1-21 1 26 1-19 1 11 1-18 1 18 1-4 1-5 1 13 1-4 1-3 1 4 1-10 1 14 1-11 1 5 1 5 1 6 1 10 1-15 1-16 1 12 1-24 1 32 1-7 1 16 1-36 1 33 1-24 1 2 1-30 1 17 1 7 1 8 1-23 1 30 1 11 1-28 1 13 1 8 1-14 1-2 1 27 1-33 1-13 1 31 1 15 1-24 1 5 1-12 1-2 1 14 1-22 1 46 1-16 1-12 1-3 1 7 1-8 1 24 1 13 1-42 1-7 1 18 1 16 1-7 1-17 1 5 1-15 1-4 1 5 1 20 1-17 1 7 1 4 1 0 1 4 1 12 1-18 1 15 1-10 1-11 1 0 1 35 1-15 1 5 1-18 1 14 1-23 1 19 1-12 1 19 1-3 1-6 1-10 1 33 1-28 1 20 1-21 1 26 1-18 1-22 1-3 1 32 1-36 1 29 1-7 1-6 1 5 1-3 1 2 1-9 1 9 1 8 1 8 1 1 1-13 1-11 1 5 1 8 1-9 1 13 1-9 1-5 1 11 1-23 1 3 1 19 1-13 1 6 1-2 1 0 1-13 1 13 1 0 1-9 1 1 1-11 1 33 1-20 1 33 1-25 1 18 1 0 1-16 1 13 1-11 1 32 1-54 1 54 1-27 1-32 1 41 1-41 1 8 1 16 1 3 1-1 1-7 1-10 1-5 1 46 1-40 1 4 1 24 1-28 1-1 1 0 1 13 1-11 1-6 1 25 1-2 1 1 1-24 1 16 1 10 1 3 1 4 1-20 1-9 1-6 1 31 1-1 1 0 1-1 1 8 1-40 1 14 1 13 1 27 1-52 1 8 1 8 1-8 1 19 1-18 1 16 1-14 1 9 1 15 1-3 1-29 1 1 1 16 1 7 1-4 1-11 1 23 1-31 1 24 1 4 1-15 1-26 1 35 1-5 1 11 1-19 1-1 1 4 1 5 1-10 1-6 1 17 1-3 1 5 1-1 1-24 1 30 1-16 1-12 1 21 1-15 1-2 1 30 1-33 1 27 1-16 1 23 1 1 1-19 1-25 1-13 1-3 1 19 1 2 1 5 1 2 1 13 1 2 1-12 1-1 1 15 1 7 1-6 1-56 1 55 1-29 1 3 1 2 1 23 1-36 1 23 1 12 1 2 1-8 1-31 1 46 1-8 1-10 1-6 1 21 1-1 1-6 1-17 1 12 1 0 1-6 1 2 1-12 1 23 1-10 1 9 1-19 1-2 1 15 1-20 1 19 1-22 1 24 1 1 1 14 1-6 1-9 1 24 1-29 1-12 1 4 1 5 1-7 1 17 1-1 1-18 1 13 1-16 1 20 1-16 1-8 1 19 1-25 1 2 1 55 1-70 1 58 1-56 1 46 1 17 1-11 1-25 1 21 1-7 1-24 1 30 1-21 1-10 1 43 1-10 1-19 1 3 1-4 1 31 1-16 1-17 1-3 1-9 1 22 1 5 1 4 1-1 1 15 1-52 1 30 1 4 1-1 1-17 1 6 1 12 1-24 1 10 1 6 1-3 1-16 1 6 1 11 1-15 1 44 1-40 1 22 1-4 1-5 1-30 1 29 1-1 1-10 1 36 1-25 1-12 1 23 1-22 1 18 1 11 1-34 1 11 1-9 1 8 1 17 1-29 1 8 1 0 1 11 1 10 1-36 1 9 1 8 1 11 1-27 1 30 1-1 1-41 1 22 1-5 1 3 1-20 1 24 1-1 1 19 1-13 1 22 1-16 1-6 1-10 1-9 1 29 1 5 1-19 1 16 1-36 1 6 1 31 1-17 1-15 1 31 1-6 1-6 1-20 1 12 1 10 1-8 1 4 1-2 1-4 1 3 1-6 1 9 1 4 1 1 1 18 1-16 1-32 1 26 1-8 1-5 1 19 1-2 1-12 1 20 1-26 1 3 1 7 1-1 1-7 1 9 1 36 1-42 1 20 1-6 1-1 1 0 1 17 1 3 1-25 1-2 1-6 1 24 1-14 1-15 1 16 1 3 1-37 1 52 1-12 1 4 1-9 1-51 1 58 1-10 1 3 1 3 1-22 1 18 1-22 1-5 1 27 1-27 1 36 1-21 1-10 1 29 1-14 1-8 1-1 1 3 1-23 1 29 1-19 1-13 1 39 1-3 1 8 1-24 1-10 1 44 1-11 1-5 1-40 1 36 1-10 1 22 1-29 1 27 1-14 1 13 1-13 1 1 1-6 1 0 1-22 1 35 1-29 1 14 1 7 1-7 1 1 1-8 1 0 1 3 1 5 1 26 1-35 1-4 1 11 1 0 1 17 1-16 1-9 1 31 1-12 1 1 1-25 1 24 1 19 1-28 1-16 1 20 1 4 1-9 1-21 1 27 1 0 1-9 1 17 1 12 1-26 1 7 1-10 1 3 1-5 1 22 1-20 1 18 1-18 1 11 1-30 1 36 1 19 1-33 1 8 1 6 1-16 1-20 1 26 1 7 1-30 1 4 1 16 1 8 1-18 1 20 1-1 1 2 1-19 1-13 1 20 1-24 1 52 1-27 1 24 1-37 1-6 1 44 1-15 1-11 1 21 1-8 1 2 1-15 1 11 1 6 1-5 1-10 1-2 1 4 1-20 1 22 1-7 1-7 1 13 1-23 1 7 1 0 1 23 1-10 1-10 1-7 1 23 1-2 1 12 1 2 1-36 1 15 1-8 1-8 1 16 1-3 1 16 1-6 1-14 1-14 1 5 1 24 1 1 1-21 1 3 1-1 1 4 1-14 1 13 1-16 1 12 1 8 1 15 1-20 1-8 1 10 1 16 1 12 1-22 1-29 1 40 1-9 1-9 1-11 1 27 1-14 1-4 1 21 1-22 1 19 1-16 1-7 1 8 1 18 1-27 1 0 1 7 1-9 1 18 1 5 1-9 1-10 1-5 1 21 1-12 1 0 1 9 1 22 1-5 1-37 1 35 1 3 1-4 1-16 1-22 1 12 1 12 1-3 1-10 1 5 1 25 1-41 1 4 1 27 1-11 1-10 1 2 1 9 1-6 1-24 1 29 1-18 1 10 1 19 1-25 1 4 1-12 1-6 1 8 1 10 1-3 1-5 1 23 1 3 1-25 1 26 1-12 1-29 1 13 1-5 1 18 1-17 1 27 1 0 1-9 1 7 1-27 1 20 1 14 1-29 1 2 1-6 1 32 1-4 1 19 1-36 1 6 1 7 1-27 1 29 1-4 1 6 1 1 1-13 1 2 1 2 1 11 1 3 1-11 1-7 1 11 1-6 1-1 1 8 1 7 1-19 1-24 1 15 1 8 1 8 1-1 1-24 1 31 1-42 1 24 1-4 1 9 1-18 1 0 1 23 1-36 1 22 1 23 1-27 1 2 1 1 1-9 1-4 1 32 1-14 1-1 1-3 1 25 1-28 1 2 1-26 1 38 1-5 1-13 1 6 1-13 1-5 1 29 1-14 1-8 1 19 1-42 1 26 1 2 1 22 1-11 1 17 1-37 1 20 1-13 1-4 1 1 1 7 1-16 1 24 1 8 1-6 1-31 1-10 1 25 1-4 1-14 1 18 1-13 1 8 1-22 1 30 1-20 1-3 1-23 1-10 1-1 1-25 1 13 1 2 1-10 1-15 1-4 1-17 1 8 1 3 1-3 1-14 1 19 1-19 1-2 1 9 1-1 1-3 1 3 1 5 1 8 1 15 1 14 1 14 1-27 1 12 1 28 1-18 1 20 1 7 1 12 1-32 1 43 1 1 1-18 1 1 1 6 1 22 1-8 1 11 1-3 1-29 1 22 1-6 1 24 1-4 1-12 1-10 1 20 1-22 1-12 1 58 1-24 1-9 1 13 1-26 1 22 1-3 1 28 1-36 1 18 1-10 1 10 1 6 1-7 1 16 1-14 1-19 1 2 1 28 1-26 1 18 1 4 1-18 1-2 1 19 1-22 1 14 1-31 1 52 1-18 1 1 1 8 1 7 1-37 1 13 1 24 1-11 1-3 1-10 1 19 1-36 1 21 1-20 1 12 1 12 1-1 1-9 1 4 1-2 1-7 1-7 1 32 1 9 1-10 1-31 1 20 1 7 1-14 1-6 1 27 1-2 1-14 1 1 1 9 1-43 1 14 1 20 1-12 1 28 1-31 1 16 1 7 1 10 1-32 1 11 1 9 1-23 1 18 1-7 1 10 1-13 1 23 1-11 1-6 1 12 1-4 1-18 1 17 1-22 1 9 1 6 1 21 1-43 1 0 1 17 1 2 1 1 1 7 1-2 1-10 1 28 1-21 1-7 1 31 1-16 1 13 1-1 1-29 1 25 1-55 1 41 1 9 1-8 1-4 1-4 1-1 1 0 1-11 1-2 1 16 1-4 1 16 1-2 1-4 1-25 1 30 1-13 1 1 1-10 1 20 1-3 1-22 1 12 1 12 1-25 1 15 1 9 1-21 1-13 1 32 1 9 1 19 1-61 1 35 1-4 1 10 1-12 1 13 1-38 1 12 1 18 1 10 1-26 1 20 1-31 1 15 1 4 1 17 1-21 1 23 1-37 1 46 1-23 1-40 1 41 1-18 1-5 1 11 1 7 1-17 1-1 1 23 1-31 1 4 1 34 1-23 1-1 1 6 1 11 1 9 1-25 1 31 1-16 1 20 1-18 1-12 1 23 1-33 1-2 1 7 1-3 1-12 1 10 1 36 1-23 1 10 1-13 1 25 1-25 1 4 1-11 1 22 1-11 1 27 1-28 1-2 1 19 1-20 1 20 1-27 1 19 1-6 1-30 1 16 1-14 1 7 1 16 1-24 1 18 1 4 1 6 1 11 1-25 1 11 1-10 1 8 1-11 1 18 1-13 1-11 1-4 1 18 1 14 1-36 1 4 1 27 1-29 1 11 1 21 1-15 1 20 1-13 1 0 1-5 1-17 1 38 1 23 1-55 1 14 1-18 1 1 1-12 1 54 1-52 1 23 1 7 1-31 1 5 1 38 1-11 1-30 1 41 1-26 1-2 1 10 1 5 1-20 1 15 1 11 1-23 1 31 1-15 1-14 1 28 1-43 1 17 1 5 1 15 1-18 1 7 1-10 1 14 1-13 1 26 1 1 1-11 1 18 1-25 1-5 1 26 1-22 1 7 1 1 1-29 1 24 1-5 1 9 1-2 1-6 1-2 1 4 1-19 1 19 1-3 1-27 1 22 1-9 1 2 1 16 1-25 1 15 1 1 1 1 1-4 1-7 1 44 1-52 1 50 1-12 1-27 1 12 1-13 1 28 1-19 1-8 1 21 1-2 1-12 1-6 1 44 1-31 1-10 1-17 1 38 1-19 1 18 1-2 1-5 1-34 1 17 1-7 1 16 1-18 1 15 1-10 1 32 1-8 1-24 1-22 1 4 1 43 1-12 1 1 1-42 1 49 1-15 1-14 1 7 1 29 1-49 1 62 1-35 1 10 1 15 1-16 1 0 1 12 1-9 1-5" fill="none" stroke="#ff0000" stroke-width="5.2" stroke-linejoin="round"/>
</g></g>
<text x="150" y="1345.5" font-family="Liberation Serif" font-size="48" stroke="#000" stroke-width="1.4" filter="url(#bl5)" text-anchor="end" fill="#000">0</text>
<text x="150" y="1165.2" font-family="Liberation Serif" font-size="48" stroke="#000" stroke-width="1.4" filter="url(#bl5)" text-anchor="end" fill="#000">1000</text>
<text x="150" y="985.0" font-family="Liberation Serif" font-size="48" stroke="#000" stroke-width="1.4" filter="url(#bl5)" text-anchor="end" fill="#000">2000</text>
<text x="150" y="804.8" font-family="Liberation Serif" font-size="48" stroke="#000" stroke-width="1.4" filter="url(#bl5)" text-anchor="end" fill="#000">3000</text>
<text x="150" y="624.6" font-family="Liberation Serif" font-size="48" stroke="#000" stroke-width="1.4" filter="url(#bl5)" text-anchor="end" fill="#000">4000</text>
<text x="150" y="444.4" font-family="Liberation Serif" font-size="48" stroke="#000" stroke-width="1.4" filter="url(#bl5)" text-anchor="end" fill="#000">5000</text>
<text x="150" y="264.2" font-family="Liberation Serif" font-size="48" stroke="#000" stroke-width="1.4" filter="url(#bl5)" text-anchor="end" fill="#000">6000</text>
<text x="186.2" y="1394.5" font-family="Liberation Serif" font-size="48" stroke="#000" stroke-width="1.4" filter="url(#bl5)" text-anchor="middle" fill="#000">20</text>
<text x="436.8" y="1394.5" font-family="Liberation Serif" font-size="48" stroke="#000" stroke-width="1.4" filter="url(#bl5)" text-anchor="middle" fill="#000">30</text>
<text x="687.3" y="1394.5" font-family="Liberation Serif" font-size="48" stroke="#000" stroke-width="1.4" filter="url(#bl5)" text-anchor="middle" fill="#000">40</text>
<text x="950.5" y="1394.5" font-family="Liberation Serif" font-size="48" stroke="#000" stroke-width="1.4" filter="url(#bl5)" text-anchor="middle" fill="#000">50</text>
<text x="1201.0" y="1394.5" font-family="Liberation Serif" font-size="48" stroke="#000" stroke-width="1.4" filter="url(#bl5)" text-anchor="middle" fill="#000">60</text>
<text x="1452.3" y="1394.5" font-family="Liberation Serif" font-size="48" stroke="#000" stroke-width="1.4" filter="url(#bl5)" text-anchor="middle" fill="#000">70</text>
<text x="1702.9" y="1394.5" font-family="Liberation Serif" font-size="48" stroke="#000" stroke-width="1.4" filter="url(#bl5)" text-anchor="middle" fill="#000">80</text>
<text x="1954.0" y="1394.5" font-family="Liberation Serif" font-size="48" stroke="#000" stroke-width="1.4" filter="url(#bl5)" text-anchor="middle" fill="#000">90</text>
<text transform="translate(39.6,762) rotate(-90)" font-family="Liberation Serif" font-size="48" stroke="#000" stroke-width="1.4" filter="url(#bl5)" text-anchor="middle" fill="#000">Counts</text>
<text transform="translate(830.6,58.5) rotate(-90)" font-family="Liberation Serif" font-size="48" stroke="#000" stroke-width="1.4" filter="url(#bl5)" letter-spacing="1" text-anchor="middle" fill="#000">(110)</text>
<text transform="translate(1776,738.5) rotate(-90)" font-family="Liberation Serif" font-size="48" stroke="#000" stroke-width="1.4" filter="url(#bl5)" letter-spacing="1" text-anchor="middle" fill="#000">(211)</text>
<g filter="url(#bl4)">
<polygon points="811.4,143.5 826.0,185.2 796.8,185.2" fill="#4472c4" stroke="#2e5395" stroke-width="3" stroke-linejoin="round"/>
<polygon points="1755.7,810.2 1769.9,852.1 1741.5,852.1" fill="#4472c4" stroke="#2e5395" stroke-width="3" stroke-linejoin="round"/>
<polygon points="1737.4,464.2 1751.6,505.1 1723.2,505.1" fill="#4472c4" stroke="#2e5395" stroke-width="3" stroke-linejoin="round"/>
<rect x="1313.5" y="829" width="28" height="27.5" fill="#4472c4" stroke="#2e5395" stroke-width="3"/>
<rect x="1721.7" y="562.6" width="27" height="27" fill="#4472c4" stroke="#2e5395" stroke-width="3"/>
</g>
<text x="1786" y="496" font-family="Liberation Serif" font-size="48" stroke="#000" stroke-width="1.4" filter="url(#bl5)" fill="#000">α-Fe</text>
<text x="1785" y="591.5" font-family="Liberation Serif" font-size="48" stroke="#000" stroke-width="1.4" filter="url(#bl5)" fill="#000">Martensite</text>
<rect x="1504" y="152" width="429" height="179" fill="#f4f4f6"/>
<g filter="url(#bl3)">
<rect x="1502" y="152" width="3" height="180" fill="#ececf0"/>
<rect x="1505" y="152" width="8" height="179" fill="#d3dbe3"/>
<rect x="1922" y="152" width="10" height="179" fill="#d4d8e0"/>
<rect x="1932" y="152" width="3" height="180" fill="#eef0f4"/>
<rect x="1505" y="322" width="427" height="8" fill="#c2cdd9"/>
<rect x="1505" y="330" width="427" height="3" fill="#e8ecf0"/>
<rect x="1513" y="152" width="7" height="170" fill="#f6f9fb"/>
</g>
<rect x="1533" y="165" width="11" height="40" rx="4" fill="#ff0000" filter="url(#bl4)"/>
<rect x="1533" y="225" width="11" height="40" rx="4" fill="#0000ff" filter="url(#bl4)"/>
<rect x="1533" y="284" width="11" height="42" rx="4" fill="#00ff00" filter="url(#bl4)"/>
<text x="1581" y="191" font-family="Liberation Serif" font-size="48" stroke="#000" stroke-width="1.4" filter="url(#bl5)" fill="#000">Annealed.brmi</text>
<text x="1581" y="252" font-family="Liberation Serif" font-size="48" stroke="#000" stroke-width="1.4" filter="url(#bl5)" fill="#000">As-built bxmi</text>
<text x="1581" y="312.6" font-family="Liberation Serif" font-size="48" stroke="#000" stroke-width="1.4" filter="url(#bl5)" fill="#000">Hardened.bemi</text>
<path d="M0 0H1999V1403H0Z M7 6.5V1395.5H1992V6.5Z" fill="#000" fill-rule="evenodd"/>
</svg>
</body></html>
